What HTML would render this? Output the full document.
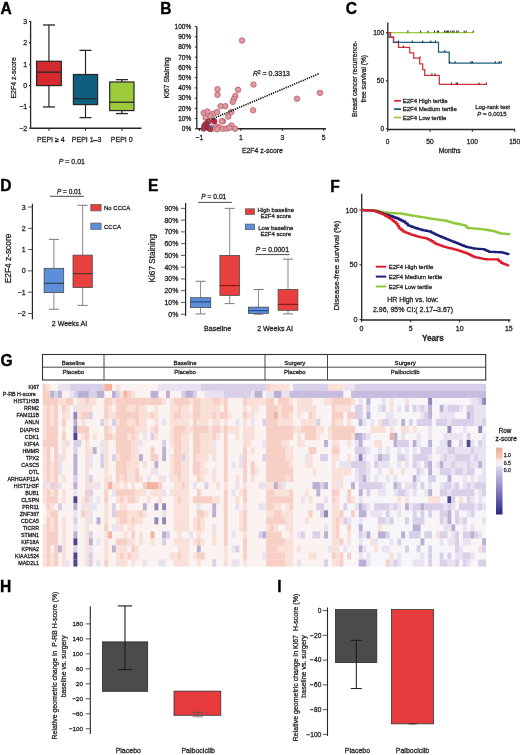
<!DOCTYPE html>
<html><head><meta charset="utf-8"><title>Figure</title>
<style>
html,body{margin:0;padding:0;background:#fff;}
body{width:520px;height:755px;overflow:hidden;}
svg{display:block;}
text{font-family:"Liberation Sans", Arial, Helvetica, sans-serif;}
</style></head>
<body>
<svg width="520" height="755" viewBox="0 0 520 755" shape-rendering="geometricPrecision">
<rect x="0" y="0" width="520" height="755" fill="#fff"/>
<text x="0.60" y="14.20" font-size="15.6" text-anchor="start" fill="#000" font-weight="bold" stroke="#000" stroke-width="0.35">A</text>
<line x1="30.60" y1="21.05" x2="30.60" y2="128.30" stroke="#262626" stroke-width="1.3" />
<line x1="29.00" y1="21.55" x2="30.60" y2="21.55" stroke="#262626" stroke-width="1.1" />
<text x="27.20" y="24.07" font-size="7.0" text-anchor="end" fill="#231f20" font-weight="normal"  stroke="#231f20" stroke-width="0.28">3</text>
<line x1="29.00" y1="42.90" x2="30.60" y2="42.90" stroke="#262626" stroke-width="1.1" />
<text x="27.20" y="45.42" font-size="7.0" text-anchor="end" fill="#231f20" font-weight="normal"  stroke="#231f20" stroke-width="0.28">2</text>
<line x1="29.00" y1="64.25" x2="30.60" y2="64.25" stroke="#262626" stroke-width="1.1" />
<text x="27.20" y="66.77" font-size="7.0" text-anchor="end" fill="#231f20" font-weight="normal"  stroke="#231f20" stroke-width="0.28">1</text>
<line x1="29.00" y1="85.60" x2="30.60" y2="85.60" stroke="#262626" stroke-width="1.1" />
<text x="27.20" y="88.12" font-size="7.0" text-anchor="end" fill="#231f20" font-weight="normal"  stroke="#231f20" stroke-width="0.28">0</text>
<line x1="29.00" y1="106.95" x2="30.60" y2="106.95" stroke="#262626" stroke-width="1.1" />
<text x="27.20" y="109.47" font-size="7.0" text-anchor="end" fill="#231f20" font-weight="normal"  stroke="#231f20" stroke-width="0.28">&#8722;1</text>
<line x1="29.00" y1="128.30" x2="30.60" y2="128.30" stroke="#262626" stroke-width="1.1" />
<text x="27.20" y="130.82" font-size="7.0" text-anchor="end" fill="#231f20" font-weight="normal"  stroke="#231f20" stroke-width="0.28">&#8722;2</text>
<line x1="30.60" y1="128.30" x2="141.50" y2="128.30" stroke="#262626" stroke-width="1.6" />
<line x1="48.90" y1="128.30" x2="48.90" y2="130.70" stroke="#262626" stroke-width="1.1" />
<line x1="85.50" y1="128.30" x2="85.50" y2="130.70" stroke="#262626" stroke-width="1.1" />
<line x1="122.00" y1="128.30" x2="122.00" y2="130.70" stroke="#262626" stroke-width="1.1" />
<line x1="48.95" y1="24.97" x2="48.95" y2="61.26" stroke="#262626" stroke-width="1.2" />
<line x1="48.95" y1="85.60" x2="48.95" y2="106.95" stroke="#262626" stroke-width="1.2" />
<line x1="42.95" y1="24.97" x2="54.95" y2="24.97" stroke="#262626" stroke-width="1.3" />
<line x1="42.95" y1="106.95" x2="54.95" y2="106.95" stroke="#262626" stroke-width="1.3" />
<rect x="36.60" y="61.26" width="24.70" height="24.34" fill="#d42a2e" stroke="#262626" stroke-width="1.2" />
<line x1="36.60" y1="72.15" x2="61.30" y2="72.15" stroke="#262626" stroke-width="1.3" />
<line x1="85.50" y1="50.37" x2="85.50" y2="74.50" stroke="#262626" stroke-width="1.2" />
<line x1="85.50" y1="104.60" x2="85.50" y2="117.62" stroke="#262626" stroke-width="1.2" />
<line x1="79.50" y1="50.37" x2="91.50" y2="50.37" stroke="#262626" stroke-width="1.3" />
<line x1="79.50" y1="117.62" x2="91.50" y2="117.62" stroke="#262626" stroke-width="1.3" />
<rect x="73.40" y="74.50" width="24.20" height="30.10" fill="#0e5e80" stroke="#262626" stroke-width="1.2" />
<line x1="73.40" y1="98.62" x2="97.60" y2="98.62" stroke="#262626" stroke-width="1.3" />
<line x1="121.85" y1="79.62" x2="121.85" y2="81.97" stroke="#262626" stroke-width="1.2" />
<line x1="121.85" y1="110.58" x2="121.85" y2="113.57" stroke="#262626" stroke-width="1.2" />
<line x1="115.85" y1="79.62" x2="127.85" y2="79.62" stroke="#262626" stroke-width="1.3" />
<line x1="115.85" y1="113.57" x2="127.85" y2="113.57" stroke="#262626" stroke-width="1.3" />
<rect x="109.70" y="81.97" width="24.30" height="28.61" fill="#9dcb3b" stroke="#262626" stroke-width="1.2" />
<line x1="109.70" y1="102.25" x2="134.00" y2="102.25" stroke="#262626" stroke-width="1.3" />
<text x="50.90" y="142.12" font-size="7.0" text-anchor="middle" fill="#231f20" font-weight="normal"  stroke="#231f20" stroke-width="0.28">PEPI &#8805; 4</text>
<text x="86.60" y="142.12" font-size="7.0" text-anchor="middle" fill="#231f20" font-weight="normal"  stroke="#231f20" stroke-width="0.28">PEPI 1&#8211;3</text>
<text x="121.70" y="142.12" font-size="7.0" text-anchor="middle" fill="#231f20" font-weight="normal"  stroke="#231f20" stroke-width="0.28">PEPI 0</text>
<text x="71.80" y="164.32" font-size="7.0" text-anchor="middle" fill="#231f20" font-weight="normal"  stroke="#231f20" stroke-width="0.28"><tspan font-style="italic">P</tspan> = 0.01</text>
<text transform="translate(15.52,77.80) rotate(-90)" x="0" y="0" font-size="7.0" text-anchor="middle" fill="#231f20" stroke="#231f20" stroke-width="0.28" >E2F4 z-score</text>
<text x="160.20" y="13.50" font-size="15.6" text-anchor="start" fill="#000" font-weight="bold" stroke="#000" stroke-width="0.35">B</text>
<line x1="196.80" y1="26.50" x2="196.80" y2="128.80" stroke="#262626" stroke-width="1.3" />
<line x1="194.80" y1="128.80" x2="196.80" y2="128.80" stroke="#262626" stroke-width="1.0" />
<text x="191.20" y="131.14" font-size="6.5" text-anchor="end" fill="#231f20" font-weight="normal"  stroke="#231f20" stroke-width="0.28">0%</text>
<line x1="194.80" y1="118.57" x2="196.80" y2="118.57" stroke="#262626" stroke-width="1.0" />
<text x="191.20" y="120.91" font-size="6.5" text-anchor="end" fill="#231f20" font-weight="normal"  stroke="#231f20" stroke-width="0.28">10%</text>
<line x1="194.80" y1="108.34" x2="196.80" y2="108.34" stroke="#262626" stroke-width="1.0" />
<text x="191.20" y="110.68" font-size="6.5" text-anchor="end" fill="#231f20" font-weight="normal"  stroke="#231f20" stroke-width="0.28">20%</text>
<line x1="194.80" y1="98.11" x2="196.80" y2="98.11" stroke="#262626" stroke-width="1.0" />
<text x="191.20" y="100.45" font-size="6.5" text-anchor="end" fill="#231f20" font-weight="normal"  stroke="#231f20" stroke-width="0.28">30%</text>
<line x1="194.80" y1="87.88" x2="196.80" y2="87.88" stroke="#262626" stroke-width="1.0" />
<text x="191.20" y="90.22" font-size="6.5" text-anchor="end" fill="#231f20" font-weight="normal"  stroke="#231f20" stroke-width="0.28">40%</text>
<line x1="194.80" y1="77.65" x2="196.80" y2="77.65" stroke="#262626" stroke-width="1.0" />
<text x="191.20" y="79.99" font-size="6.5" text-anchor="end" fill="#231f20" font-weight="normal"  stroke="#231f20" stroke-width="0.28">50%</text>
<line x1="194.80" y1="67.42" x2="196.80" y2="67.42" stroke="#262626" stroke-width="1.0" />
<text x="191.20" y="69.76" font-size="6.5" text-anchor="end" fill="#231f20" font-weight="normal"  stroke="#231f20" stroke-width="0.28">60%</text>
<line x1="194.80" y1="57.19" x2="196.80" y2="57.19" stroke="#262626" stroke-width="1.0" />
<text x="191.20" y="59.53" font-size="6.5" text-anchor="end" fill="#231f20" font-weight="normal"  stroke="#231f20" stroke-width="0.28">70%</text>
<line x1="194.80" y1="46.96" x2="196.80" y2="46.96" stroke="#262626" stroke-width="1.0" />
<text x="191.20" y="49.30" font-size="6.5" text-anchor="end" fill="#231f20" font-weight="normal"  stroke="#231f20" stroke-width="0.28">80%</text>
<line x1="194.80" y1="36.73" x2="196.80" y2="36.73" stroke="#262626" stroke-width="1.0" />
<text x="191.20" y="39.07" font-size="6.5" text-anchor="end" fill="#231f20" font-weight="normal"  stroke="#231f20" stroke-width="0.28">90%</text>
<line x1="194.80" y1="26.50" x2="196.80" y2="26.50" stroke="#262626" stroke-width="1.0" />
<text x="191.20" y="28.84" font-size="6.5" text-anchor="end" fill="#231f20" font-weight="normal"  stroke="#231f20" stroke-width="0.28">100%</text>
<line x1="196.80" y1="128.80" x2="326.00" y2="128.80" stroke="#262626" stroke-width="1.5" />
<line x1="199.50" y1="128.80" x2="199.50" y2="131.00" stroke="#262626" stroke-width="1.0" />
<text x="199.50" y="139.75" font-size="6.8" text-anchor="middle" fill="#231f20" font-weight="normal"  stroke="#231f20" stroke-width="0.28">&#8722;1</text>
<line x1="240.90" y1="128.80" x2="240.90" y2="131.00" stroke="#262626" stroke-width="1.0" />
<text x="240.90" y="139.75" font-size="6.8" text-anchor="middle" fill="#231f20" font-weight="normal"  stroke="#231f20" stroke-width="0.28">1</text>
<line x1="282.30" y1="128.80" x2="282.30" y2="131.00" stroke="#262626" stroke-width="1.0" />
<text x="282.30" y="139.75" font-size="6.8" text-anchor="middle" fill="#231f20" font-weight="normal"  stroke="#231f20" stroke-width="0.28">3</text>
<line x1="323.70" y1="128.80" x2="323.70" y2="131.00" stroke="#262626" stroke-width="1.0" />
<text x="323.70" y="139.75" font-size="6.8" text-anchor="middle" fill="#231f20" font-weight="normal"  stroke="#231f20" stroke-width="0.28">5</text>
<text x="262.40" y="153.28" font-size="6.9" text-anchor="middle" fill="#231f20" font-weight="normal"  stroke="#231f20" stroke-width="0.28">E2F4 z-score</text>
<text transform="translate(168.62,77.90) rotate(-90)" x="0" y="0" font-size="7.0" text-anchor="middle" fill="#231f20" stroke="#231f20" stroke-width="0.28" >Ki67 Staining</text>
<text x="253.00" y="76.12" font-size="7.0" text-anchor="start" fill="#231f20" font-weight="normal"  stroke="#231f20" stroke-width="0.28"><tspan font-style="italic">R</tspan><tspan font-size="4.5" dy="-2.5">2</tspan><tspan dy="2.5"> = 0.3313</tspan></text>
<circle cx="242.00" cy="40.50" r="2.75" fill="#dd9ba0" stroke="#b95b68" stroke-width="0.8"/>
<circle cx="253.50" cy="84.50" r="2.75" fill="#dd9ba0" stroke="#b95b68" stroke-width="0.8"/>
<circle cx="217.50" cy="89.20" r="2.75" fill="#dd9ba0" stroke="#b95b68" stroke-width="0.8"/>
<circle cx="217.50" cy="94.80" r="2.75" fill="#dd9ba0" stroke="#b95b68" stroke-width="0.8"/>
<circle cx="238.10" cy="89.80" r="2.75" fill="#dd9ba0" stroke="#b95b68" stroke-width="0.8"/>
<circle cx="235.40" cy="95.90" r="2.75" fill="#dd9ba0" stroke="#b95b68" stroke-width="0.8"/>
<circle cx="234.00" cy="99.00" r="2.75" fill="#dd9ba0" stroke="#b95b68" stroke-width="0.8"/>
<circle cx="232.70" cy="101.90" r="2.75" fill="#dd9ba0" stroke="#b95b68" stroke-width="0.8"/>
<circle cx="220.60" cy="106.20" r="2.75" fill="#dd9ba0" stroke="#b95b68" stroke-width="0.8"/>
<circle cx="225.30" cy="106.20" r="2.75" fill="#dd9ba0" stroke="#b95b68" stroke-width="0.8"/>
<circle cx="253.10" cy="110.30" r="2.75" fill="#dd9ba0" stroke="#b95b68" stroke-width="0.8"/>
<circle cx="231.30" cy="112.00" r="2.75" fill="#dd9ba0" stroke="#b95b68" stroke-width="0.8"/>
<circle cx="228.30" cy="116.50" r="2.75" fill="#dd9ba0" stroke="#b95b68" stroke-width="0.8"/>
<circle cx="222.90" cy="121.20" r="2.75" fill="#dd9ba0" stroke="#b95b68" stroke-width="0.8"/>
<circle cx="297.00" cy="98.70" r="2.75" fill="#dd9ba0" stroke="#b95b68" stroke-width="0.8"/>
<circle cx="320.00" cy="92.80" r="2.75" fill="#dd9ba0" stroke="#b95b68" stroke-width="0.8"/>
<circle cx="203.70" cy="112.90" r="2.75" fill="#dd9ba0" stroke="#b95b68" stroke-width="0.8"/>
<circle cx="207.50" cy="111.50" r="2.75" fill="#dd9ba0" stroke="#b95b68" stroke-width="0.8"/>
<circle cx="213.30" cy="113.80" r="2.75" fill="#dd9ba0" stroke="#b95b68" stroke-width="0.8"/>
<circle cx="217.10" cy="112.00" r="2.75" fill="#dd9ba0" stroke="#b95b68" stroke-width="0.8"/>
<circle cx="205.60" cy="117.70" r="2.75" fill="#dd9ba0" stroke="#b95b68" stroke-width="0.8"/>
<circle cx="210.50" cy="116.00" r="2.75" fill="#dd9ba0" stroke="#b95b68" stroke-width="0.8"/>
<circle cx="216.20" cy="126.30" r="2.75" fill="#dd9ba0" stroke="#b95b68" stroke-width="0.8"/>
<circle cx="219.00" cy="127.30" r="2.75" fill="#dd9ba0" stroke="#b95b68" stroke-width="0.8"/>
<circle cx="221.90" cy="121.20" r="2.75" fill="#dd9ba0" stroke="#b95b68" stroke-width="0.8"/>
<circle cx="217.10" cy="129.20" r="2.75" fill="#dd9ba0" stroke="#b95b68" stroke-width="0.8"/>
<circle cx="231.50" cy="125.40" r="2.75" fill="#dd9ba0" stroke="#b95b68" stroke-width="0.8"/>
<circle cx="235.00" cy="128.70" r="2.75" fill="#dd9ba0" stroke="#b95b68" stroke-width="0.8"/>
<circle cx="212.00" cy="128.80" r="2.75" fill="#dd9ba0" stroke="#b95b68" stroke-width="0.8"/>
<circle cx="223.00" cy="128.80" r="2.75" fill="#dd9ba0" stroke="#b95b68" stroke-width="0.8"/>
<circle cx="226.50" cy="128.50" r="2.75" fill="#dd9ba0" stroke="#b95b68" stroke-width="0.8"/>
<circle cx="229.50" cy="127.80" r="2.75" fill="#dd9ba0" stroke="#b95b68" stroke-width="0.8"/>
<circle cx="208.50" cy="121.50" r="2.75" fill="#a83446" stroke="#7e2234" stroke-width="0.7" fill-opacity="0.9"/>
<circle cx="206.00" cy="124.00" r="2.75" fill="#a83446" stroke="#7e2234" stroke-width="0.7" fill-opacity="0.9"/>
<circle cx="204.60" cy="125.60" r="2.75" fill="#a83446" stroke="#7e2234" stroke-width="0.7" fill-opacity="0.9"/>
<circle cx="207.50" cy="127.50" r="2.75" fill="#a83446" stroke="#7e2234" stroke-width="0.7" fill-opacity="0.9"/>
<circle cx="203.70" cy="128.50" r="2.75" fill="#a83446" stroke="#7e2234" stroke-width="0.7" fill-opacity="0.9"/>
<circle cx="210.00" cy="129.00" r="2.75" fill="#a83446" stroke="#7e2234" stroke-width="0.7" fill-opacity="0.9"/>
<circle cx="214.2" cy="121.2" r="2.7" fill="#b8283f" stroke="#8a1c30" stroke-width="0.6"/>
<circle cx="211.3" cy="126.3" r="2.0" fill="#6a5a9a" fill-opacity="0.65"/>
<line x1="211.5" y1="119.3" x2="318.9" y2="73.7" stroke="#111" stroke-width="1.65" stroke-dasharray="1.3,1.0"/>
<text x="345.80" y="14.20" font-size="15.6" text-anchor="start" fill="#000" font-weight="bold" stroke="#000" stroke-width="0.35">C</text>
<line x1="387.80" y1="22.40" x2="387.80" y2="129.60" stroke="#262626" stroke-width="1.3" />
<line x1="385.80" y1="32.70" x2="387.80" y2="32.70" stroke="#262626" stroke-width="1.1" />
<text x="384.20" y="35.08" font-size="6.6" text-anchor="end" fill="#231f20" font-weight="normal"  stroke="#231f20" stroke-width="0.28">100</text>
<line x1="385.80" y1="80.80" x2="387.80" y2="80.80" stroke="#262626" stroke-width="1.1" />
<text x="384.20" y="83.18" font-size="6.6" text-anchor="end" fill="#231f20" font-weight="normal"  stroke="#231f20" stroke-width="0.28">50</text>
<line x1="385.80" y1="128.90" x2="387.80" y2="128.90" stroke="#262626" stroke-width="1.1" />
<text x="384.20" y="131.28" font-size="6.6" text-anchor="end" fill="#231f20" font-weight="normal"  stroke="#231f20" stroke-width="0.28">0</text>
<line x1="387.80" y1="129.60" x2="515.00" y2="129.60" stroke="#262626" stroke-width="1.5" />
<line x1="387.70" y1="129.60" x2="387.70" y2="131.80" stroke="#262626" stroke-width="1.1" />
<text x="387.70" y="143.78" font-size="6.6" text-anchor="middle" fill="#231f20" font-weight="normal"  stroke="#231f20" stroke-width="0.28">0</text>
<line x1="430.03" y1="129.60" x2="430.03" y2="131.80" stroke="#262626" stroke-width="1.1" />
<text x="430.03" y="143.78" font-size="6.6" text-anchor="middle" fill="#231f20" font-weight="normal"  stroke="#231f20" stroke-width="0.28">50</text>
<line x1="472.37" y1="129.60" x2="472.37" y2="131.80" stroke="#262626" stroke-width="1.1" />
<text x="472.37" y="143.78" font-size="6.6" text-anchor="middle" fill="#231f20" font-weight="normal"  stroke="#231f20" stroke-width="0.28">100</text>
<line x1="514.70" y1="129.60" x2="514.70" y2="131.80" stroke="#262626" stroke-width="1.1" />
<text x="514.70" y="143.78" font-size="6.6" text-anchor="middle" fill="#231f20" font-weight="normal"  stroke="#231f20" stroke-width="0.28">150</text>
<text x="449.70" y="152.71" font-size="6.7" text-anchor="middle" fill="#231f20" font-weight="normal"  stroke="#231f20" stroke-width="0.28">Months</text>
<text transform="translate(357.08,78.80) rotate(-90)" x="0" y="0" font-size="6.6" text-anchor="middle" fill="#231f20" stroke="#231f20" stroke-width="0.28" >Breast cancer recurrence-</text>
<text transform="translate(365.68,78.80) rotate(-90)" x="0" y="0" font-size="6.6" text-anchor="middle" fill="#231f20" stroke="#231f20" stroke-width="0.28" >free survival (%)</text>
<polyline points="388,32.5 473.6,32.5" fill="none" stroke="#9dcb3b" stroke-width="1.25"/>
<polyline points="388,32.5 388.9,32.5 388.9,37.0 393.5,37.0 393.5,42.4 438.5,42.4 438.5,52.0 449.2,52.0 449.2,63.1 501.5,63.1" fill="none" stroke="#1a5f82" stroke-width="1.25"/>
<polyline points="388,32.5 390.6,32.5 390.6,37.0 393.5,37.0 393.5,42.4 398.5,42.4 398.5,47.4 409.7,47.4 409.7,52.8 413.7,52.8 413.7,58.2 419.7,58.2 419.7,63.8 422.7,63.8 422.7,69.5 424.7,69.5 424.7,75.3 439.3,75.3 439.3,84.4 486.8,84.4" fill="none" stroke="#d2323a" stroke-width="1.25"/>
<polyline points="393.5,42.4 398.5,42.4" fill="none" stroke="#1a5f82" stroke-width="1.25"/>
<line x1="407.90" y1="32.50" x2="407.90" y2="30.60" stroke="#1a1a1a" stroke-width="1.0" />
<line x1="420.60" y1="32.50" x2="420.60" y2="30.60" stroke="#1a1a1a" stroke-width="1.0" />
<line x1="428.10" y1="32.50" x2="428.10" y2="30.60" stroke="#1a1a1a" stroke-width="1.0" />
<line x1="434.50" y1="32.50" x2="434.50" y2="30.60" stroke="#1a1a1a" stroke-width="1.0" />
<line x1="437.30" y1="32.50" x2="437.30" y2="30.60" stroke="#1a1a1a" stroke-width="1.0" />
<line x1="438.50" y1="32.50" x2="438.50" y2="30.60" stroke="#1a1a1a" stroke-width="1.0" />
<line x1="444.60" y1="32.50" x2="444.60" y2="30.60" stroke="#1a1a1a" stroke-width="1.0" />
<line x1="446.20" y1="32.50" x2="446.20" y2="30.60" stroke="#1a1a1a" stroke-width="1.0" />
<line x1="447.40" y1="32.50" x2="447.40" y2="30.60" stroke="#1a1a1a" stroke-width="1.0" />
<line x1="448.70" y1="32.50" x2="448.70" y2="30.60" stroke="#1a1a1a" stroke-width="1.0" />
<line x1="450.80" y1="32.50" x2="450.80" y2="30.60" stroke="#1a1a1a" stroke-width="1.0" />
<line x1="452.80" y1="32.50" x2="452.80" y2="30.60" stroke="#1a1a1a" stroke-width="1.0" />
<line x1="454.10" y1="32.50" x2="454.10" y2="30.60" stroke="#1a1a1a" stroke-width="1.0" />
<line x1="456.80" y1="32.50" x2="456.80" y2="30.60" stroke="#1a1a1a" stroke-width="1.0" />
<line x1="458.20" y1="32.50" x2="458.20" y2="30.60" stroke="#1a1a1a" stroke-width="1.0" />
<line x1="464.20" y1="32.50" x2="464.20" y2="30.60" stroke="#1a1a1a" stroke-width="1.0" />
<line x1="466.20" y1="32.50" x2="466.20" y2="30.60" stroke="#1a1a1a" stroke-width="1.0" />
<line x1="473.20" y1="32.50" x2="473.20" y2="30.60" stroke="#1a1a1a" stroke-width="1.0" />
<line x1="398.50" y1="42.40" x2="398.50" y2="40.50" stroke="#1a1a1a" stroke-width="1.0" />
<line x1="412.30" y1="42.40" x2="412.30" y2="40.50" stroke="#1a1a1a" stroke-width="1.0" />
<line x1="422.70" y1="42.40" x2="422.70" y2="40.50" stroke="#1a1a1a" stroke-width="1.0" />
<line x1="430.80" y1="42.40" x2="430.80" y2="40.50" stroke="#1a1a1a" stroke-width="1.0" />
<line x1="435.40" y1="42.40" x2="435.40" y2="40.50" stroke="#1a1a1a" stroke-width="1.0" />
<line x1="444.80" y1="52.00" x2="444.80" y2="50.10" stroke="#1a1a1a" stroke-width="1.0" />
<line x1="449.70" y1="63.10" x2="449.70" y2="61.20" stroke="#1a1a1a" stroke-width="1.0" />
<line x1="455.10" y1="63.10" x2="455.10" y2="61.20" stroke="#1a1a1a" stroke-width="1.0" />
<line x1="471.00" y1="63.10" x2="471.00" y2="61.20" stroke="#1a1a1a" stroke-width="1.0" />
<line x1="472.30" y1="63.10" x2="472.30" y2="61.20" stroke="#1a1a1a" stroke-width="1.0" />
<line x1="495.20" y1="63.10" x2="495.20" y2="61.20" stroke="#1a1a1a" stroke-width="1.0" />
<line x1="499.20" y1="63.10" x2="499.20" y2="61.20" stroke="#1a1a1a" stroke-width="1.0" />
<line x1="501.20" y1="63.10" x2="501.20" y2="61.20" stroke="#1a1a1a" stroke-width="1.0" />
<line x1="403.30" y1="47.40" x2="403.30" y2="45.50" stroke="#1a1a1a" stroke-width="1.0" />
<line x1="420.00" y1="58.20" x2="420.00" y2="56.30" stroke="#1a1a1a" stroke-width="1.0" />
<line x1="431.90" y1="75.30" x2="431.90" y2="73.40" stroke="#1a1a1a" stroke-width="1.0" />
<line x1="435.00" y1="75.30" x2="435.00" y2="73.40" stroke="#1a1a1a" stroke-width="1.0" />
<line x1="451.40" y1="84.40" x2="451.40" y2="82.50" stroke="#1a1a1a" stroke-width="1.0" />
<line x1="456.20" y1="84.40" x2="456.20" y2="82.50" stroke="#1a1a1a" stroke-width="1.0" />
<line x1="457.50" y1="84.40" x2="457.50" y2="82.50" stroke="#1a1a1a" stroke-width="1.0" />
<line x1="479.00" y1="84.40" x2="479.00" y2="82.50" stroke="#1a1a1a" stroke-width="1.0" />
<line x1="486.40" y1="84.40" x2="486.40" y2="82.50" stroke="#1a1a1a" stroke-width="1.0" />
<line x1="394.00" y1="100.80" x2="401.00" y2="100.80" stroke="#d2323a" stroke-width="1.8" />
<text x="402.70" y="102.98" font-size="6.05" text-anchor="start" fill="#231f20" font-weight="normal"  stroke="#231f20" stroke-width="0.28">E2F4 High tertile</text>
<line x1="394.00" y1="109.15" x2="401.00" y2="109.15" stroke="#1a5f82" stroke-width="1.8" />
<text x="402.70" y="111.33" font-size="6.05" text-anchor="start" fill="#231f20" font-weight="normal"  stroke="#231f20" stroke-width="0.28">E2F4 Medium tertile</text>
<line x1="394.00" y1="117.50" x2="401.00" y2="117.50" stroke="#9dcb3b" stroke-width="1.8" />
<text x="402.70" y="119.68" font-size="6.05" text-anchor="start" fill="#231f20" font-weight="normal"  stroke="#231f20" stroke-width="0.28">E2F4 Low tertile</text>
<text x="492.60" y="109.34" font-size="5.95" text-anchor="middle" fill="#231f20" font-weight="normal"  stroke="#231f20" stroke-width="0.28">Log-rank test</text>
<text x="491.90" y="116.06" font-size="6.0" text-anchor="middle" fill="#231f20" font-weight="normal"  stroke="#231f20" stroke-width="0.28"><tspan font-style="italic">P</tspan> = 0.0015</text>
<text x="0.20" y="191.40" font-size="15.6" text-anchor="start" fill="#000" font-weight="bold" stroke="#000" stroke-width="0.35">D</text>
<line x1="32.40" y1="203.80" x2="32.40" y2="319.20" stroke="#262626" stroke-width="1.2" />
<line x1="28.00" y1="207.00" x2="32.40" y2="207.00" stroke="#444" stroke-width="0.9" />
<text x="25.60" y="209.52" font-size="7.0" text-anchor="end" fill="#231f20" font-weight="normal"  stroke="#231f20" stroke-width="0.28">3</text>
<line x1="28.00" y1="228.30" x2="32.40" y2="228.30" stroke="#444" stroke-width="0.9" />
<text x="25.60" y="230.82" font-size="7.0" text-anchor="end" fill="#231f20" font-weight="normal"  stroke="#231f20" stroke-width="0.28">2</text>
<line x1="28.00" y1="249.60" x2="32.40" y2="249.60" stroke="#444" stroke-width="0.9" />
<text x="25.60" y="252.12" font-size="7.0" text-anchor="end" fill="#231f20" font-weight="normal"  stroke="#231f20" stroke-width="0.28">1</text>
<line x1="28.00" y1="270.90" x2="32.40" y2="270.90" stroke="#444" stroke-width="0.9" />
<text x="25.60" y="273.42" font-size="7.0" text-anchor="end" fill="#231f20" font-weight="normal"  stroke="#231f20" stroke-width="0.28">0</text>
<line x1="28.00" y1="292.20" x2="32.40" y2="292.20" stroke="#444" stroke-width="0.9" />
<text x="25.60" y="294.72" font-size="7.0" text-anchor="end" fill="#231f20" font-weight="normal"  stroke="#231f20" stroke-width="0.28">&#8722;1</text>
<line x1="28.00" y1="313.50" x2="32.40" y2="313.50" stroke="#444" stroke-width="0.9" />
<text x="25.60" y="316.02" font-size="7.0" text-anchor="end" fill="#231f20" font-weight="normal"  stroke="#231f20" stroke-width="0.28">&#8722;2</text>
<line x1="53.90" y1="239.38" x2="53.90" y2="268.34" stroke="#6b6b6b" stroke-width="0.8" />
<line x1="53.90" y1="292.63" x2="53.90" y2="309.24" stroke="#6b6b6b" stroke-width="0.8" />
<line x1="48.90" y1="239.38" x2="58.90" y2="239.38" stroke="#6b6b6b" stroke-width="0.9" />
<line x1="48.90" y1="309.24" x2="58.90" y2="309.24" stroke="#6b6b6b" stroke-width="0.9" />
<rect x="44.10" y="268.34" width="19.60" height="24.28" fill="#5b8fd9" stroke="#4a4a4a" stroke-width="0.8" />
<line x1="44.10" y1="283.25" x2="63.70" y2="283.25" stroke="#333" stroke-width="1.0" />
<line x1="82.65" y1="205.30" x2="82.65" y2="255.14" stroke="#6b6b6b" stroke-width="0.8" />
<line x1="82.65" y1="287.51" x2="82.65" y2="305.41" stroke="#6b6b6b" stroke-width="0.8" />
<line x1="77.65" y1="205.30" x2="87.65" y2="205.30" stroke="#6b6b6b" stroke-width="0.9" />
<line x1="77.65" y1="305.41" x2="87.65" y2="305.41" stroke="#6b6b6b" stroke-width="0.9" />
<rect x="73.00" y="255.14" width="19.30" height="32.38" fill="#e8403e" stroke="#4a4a4a" stroke-width="0.8" />
<line x1="73.00" y1="273.67" x2="92.30" y2="273.67" stroke="#333" stroke-width="1.0" />
<text x="69.10" y="193.84" font-size="6.5" text-anchor="middle" fill="#231f20" font-weight="normal"  stroke="#231f20" stroke-width="0.28"><tspan font-style="italic">P</tspan> = 0.01</text>
<line x1="50.00" y1="196.30" x2="83.80" y2="196.30" stroke="#333" stroke-width="0.9" />
<rect x="90.80" y="204.40" width="10.30" height="6.50" fill="#e8403e" stroke="#555" stroke-width="0.7" />
<text x="104.00" y="210.46" font-size="6.0" text-anchor="start" fill="#231f20" font-weight="normal"  stroke="#231f20" stroke-width="0.28">No CCCA</text>
<rect x="90.80" y="223.10" width="10.30" height="6.20" fill="#5b8fd9" stroke="#555" stroke-width="0.7" />
<text x="104.00" y="228.66" font-size="6.0" text-anchor="start" fill="#231f20" font-weight="normal"  stroke="#231f20" stroke-width="0.28">CCCA</text>
<text x="69.50" y="326.02" font-size="7.0" text-anchor="middle" fill="#231f20" font-weight="normal"  stroke="#231f20" stroke-width="0.28">2 Weeks AI</text>
<text transform="translate(11.01,258.50) rotate(-90)" x="0" y="0" font-size="8.36" text-anchor="middle" fill="#231f20" stroke="#231f20" stroke-width="0.28" >E2F4 z-score</text>
<text x="148.00" y="191.30" font-size="15.6" text-anchor="start" fill="#000" font-weight="bold" stroke="#000" stroke-width="0.35">E</text>
<line x1="185.60" y1="202.90" x2="185.60" y2="316.00" stroke="#262626" stroke-width="1.2" />
<line x1="181.00" y1="314.20" x2="185.60" y2="314.20" stroke="#444" stroke-width="0.9" />
<text x="178.30" y="316.68" font-size="6.9" text-anchor="end" fill="#231f20" font-weight="normal"  stroke="#231f20" stroke-width="0.28">0%</text>
<line x1="181.00" y1="302.44" x2="185.60" y2="302.44" stroke="#444" stroke-width="0.9" />
<text x="178.30" y="304.92" font-size="6.9" text-anchor="end" fill="#231f20" font-weight="normal"  stroke="#231f20" stroke-width="0.28">10%</text>
<line x1="181.00" y1="290.68" x2="185.60" y2="290.68" stroke="#444" stroke-width="0.9" />
<text x="178.30" y="293.16" font-size="6.9" text-anchor="end" fill="#231f20" font-weight="normal"  stroke="#231f20" stroke-width="0.28">20%</text>
<line x1="181.00" y1="278.92" x2="185.60" y2="278.92" stroke="#444" stroke-width="0.9" />
<text x="178.30" y="281.40" font-size="6.9" text-anchor="end" fill="#231f20" font-weight="normal"  stroke="#231f20" stroke-width="0.28">30%</text>
<line x1="181.00" y1="267.16" x2="185.60" y2="267.16" stroke="#444" stroke-width="0.9" />
<text x="178.30" y="269.64" font-size="6.9" text-anchor="end" fill="#231f20" font-weight="normal"  stroke="#231f20" stroke-width="0.28">40%</text>
<line x1="181.00" y1="255.40" x2="185.60" y2="255.40" stroke="#444" stroke-width="0.9" />
<text x="178.30" y="257.88" font-size="6.9" text-anchor="end" fill="#231f20" font-weight="normal"  stroke="#231f20" stroke-width="0.28">50%</text>
<line x1="181.00" y1="243.64" x2="185.60" y2="243.64" stroke="#444" stroke-width="0.9" />
<text x="178.30" y="246.12" font-size="6.9" text-anchor="end" fill="#231f20" font-weight="normal"  stroke="#231f20" stroke-width="0.28">60%</text>
<line x1="181.00" y1="231.88" x2="185.60" y2="231.88" stroke="#444" stroke-width="0.9" />
<text x="178.30" y="234.36" font-size="6.9" text-anchor="end" fill="#231f20" font-weight="normal"  stroke="#231f20" stroke-width="0.28">70%</text>
<line x1="181.00" y1="220.12" x2="185.60" y2="220.12" stroke="#444" stroke-width="0.9" />
<text x="178.30" y="222.60" font-size="6.9" text-anchor="end" fill="#231f20" font-weight="normal"  stroke="#231f20" stroke-width="0.28">80%</text>
<line x1="181.00" y1="208.36" x2="185.60" y2="208.36" stroke="#444" stroke-width="0.9" />
<text x="178.30" y="210.84" font-size="6.9" text-anchor="end" fill="#231f20" font-weight="normal"  stroke="#231f20" stroke-width="0.28">90%</text>
<line x1="200.55" y1="281.27" x2="200.55" y2="297.74" stroke="#6b6b6b" stroke-width="0.8" />
<line x1="200.55" y1="307.61" x2="200.55" y2="313.96" stroke="#6b6b6b" stroke-width="0.8" />
<line x1="195.55" y1="281.27" x2="205.55" y2="281.27" stroke="#6b6b6b" stroke-width="0.9" />
<line x1="195.55" y1="313.96" x2="205.55" y2="313.96" stroke="#6b6b6b" stroke-width="0.9" />
<rect x="190.40" y="297.74" width="20.30" height="9.88" fill="#5b8fd9" stroke="#4a4a4a" stroke-width="0.8" />
<line x1="190.40" y1="301.85" x2="210.70" y2="301.85" stroke="#1d3f7a" stroke-width="1.0" />
<line x1="229.70" y1="208.36" x2="229.70" y2="255.40" stroke="#6b6b6b" stroke-width="0.8" />
<line x1="229.70" y1="295.38" x2="229.70" y2="303.62" stroke="#6b6b6b" stroke-width="0.8" />
<line x1="224.70" y1="208.36" x2="234.70" y2="208.36" stroke="#6b6b6b" stroke-width="0.9" />
<line x1="224.70" y1="303.62" x2="234.70" y2="303.62" stroke="#6b6b6b" stroke-width="0.9" />
<rect x="219.90" y="255.40" width="19.60" height="39.98" fill="#e8403e" stroke="#4a4a4a" stroke-width="0.8" />
<line x1="219.90" y1="285.62" x2="239.50" y2="285.62" stroke="#7a1010" stroke-width="1.0" />
<line x1="258.45" y1="289.50" x2="258.45" y2="307.14" stroke="#6b6b6b" stroke-width="0.8" />
<line x1="258.45" y1="313.38" x2="258.45" y2="314.20" stroke="#6b6b6b" stroke-width="0.8" />
<line x1="253.45" y1="289.50" x2="263.45" y2="289.50" stroke="#6b6b6b" stroke-width="0.9" />
<line x1="253.45" y1="314.20" x2="263.45" y2="314.20" stroke="#6b6b6b" stroke-width="0.9" />
<rect x="248.50" y="307.14" width="19.90" height="6.23" fill="#5b8fd9" stroke="#4a4a4a" stroke-width="0.8" />
<line x1="248.50" y1="310.67" x2="268.40" y2="310.67" stroke="#1d3f7a" stroke-width="1.0" />
<line x1="288.00" y1="259.16" x2="288.00" y2="289.50" stroke="#6b6b6b" stroke-width="0.8" />
<line x1="288.00" y1="310.32" x2="288.00" y2="313.85" stroke="#6b6b6b" stroke-width="0.8" />
<line x1="283.00" y1="259.16" x2="293.00" y2="259.16" stroke="#6b6b6b" stroke-width="0.9" />
<line x1="283.00" y1="313.85" x2="293.00" y2="313.85" stroke="#6b6b6b" stroke-width="0.9" />
<rect x="278.10" y="289.50" width="19.80" height="20.82" fill="#e8403e" stroke="#4a4a4a" stroke-width="0.8" />
<line x1="278.10" y1="304.32" x2="297.90" y2="304.32" stroke="#7a1010" stroke-width="1.0" />
<text x="213.80" y="198.90" font-size="6.66" text-anchor="middle" fill="#231f20" font-weight="normal"  stroke="#231f20" stroke-width="0.28"><tspan font-style="italic">P</tspan> = 0.01</text>
<line x1="198.20" y1="202.40" x2="231.80" y2="202.40" stroke="#333" stroke-width="0.9" />
<text x="272.40" y="251.95" font-size="6.8" text-anchor="middle" fill="#231f20" font-weight="normal"  stroke="#231f20" stroke-width="0.28"><tspan font-style="italic">P</tspan> = 0.0001</text>
<line x1="255.40" y1="254.60" x2="289.50" y2="254.60" stroke="#333" stroke-width="0.9" />
<rect x="245.30" y="208.80" width="9.30" height="5.60" fill="#e8403e" stroke="#555" stroke-width="0.7" />
<text x="275.80" y="211.66" font-size="6.0" text-anchor="middle" fill="#231f20" font-weight="normal"  stroke="#231f20" stroke-width="0.28">High baseline</text>
<text x="275.80" y="218.36" font-size="6.0" text-anchor="middle" fill="#231f20" font-weight="normal"  stroke="#231f20" stroke-width="0.28">E2F4 score</text>
<rect x="245.30" y="224.10" width="9.30" height="5.60" fill="#5b8fd9" stroke="#555" stroke-width="0.7" />
<text x="275.80" y="229.86" font-size="6.0" text-anchor="middle" fill="#231f20" font-weight="normal"  stroke="#231f20" stroke-width="0.28">Low baseline</text>
<text x="275.80" y="236.36" font-size="6.0" text-anchor="middle" fill="#231f20" font-weight="normal"  stroke="#231f20" stroke-width="0.28">E2F4 score</text>
<text x="217.60" y="331.14" font-size="7.06" text-anchor="middle" fill="#231f20" font-weight="normal"  stroke="#231f20" stroke-width="0.28">Baseline</text>
<text x="275.00" y="331.16" font-size="7.1" text-anchor="middle" fill="#231f20" font-weight="normal"  stroke="#231f20" stroke-width="0.28">2 Weeks AI</text>
<text transform="translate(155.05,258.30) rotate(-90)" x="0" y="0" font-size="8.2" text-anchor="middle" fill="#231f20" stroke="#231f20" stroke-width="0.28" >Ki67 Staining</text>
<text x="330.20" y="191.60" font-size="15.6" text-anchor="start" fill="#000" font-weight="bold" stroke="#000" stroke-width="0.35">F</text>
<line x1="361.70" y1="193.70" x2="361.70" y2="320.20" stroke="#262626" stroke-width="1.3" />
<line x1="359.50" y1="210.00" x2="361.70" y2="210.00" stroke="#262626" stroke-width="1.1" />
<text x="357.60" y="212.59" font-size="7.2" text-anchor="end" fill="#231f20" font-weight="normal"  stroke="#231f20" stroke-width="0.28">100</text>
<line x1="359.50" y1="264.80" x2="361.70" y2="264.80" stroke="#262626" stroke-width="1.1" />
<text x="357.60" y="267.39" font-size="7.2" text-anchor="end" fill="#231f20" font-weight="normal"  stroke="#231f20" stroke-width="0.28">50</text>
<line x1="359.50" y1="319.60" x2="361.70" y2="319.60" stroke="#262626" stroke-width="1.1" />
<text x="357.60" y="322.19" font-size="7.2" text-anchor="end" fill="#231f20" font-weight="normal"  stroke="#231f20" stroke-width="0.28">0</text>
<line x1="361.70" y1="320.00" x2="510.50" y2="320.00" stroke="#262626" stroke-width="1.5" />
<line x1="361.50" y1="320.00" x2="361.50" y2="322.20" stroke="#262626" stroke-width="1.1" />
<text x="361.50" y="330.52" font-size="7.0" text-anchor="middle" fill="#231f20" font-weight="normal"  stroke="#231f20" stroke-width="0.28">0</text>
<line x1="410.60" y1="320.00" x2="410.60" y2="322.20" stroke="#262626" stroke-width="1.1" />
<text x="410.60" y="330.52" font-size="7.0" text-anchor="middle" fill="#231f20" font-weight="normal"  stroke="#231f20" stroke-width="0.28">5</text>
<line x1="459.70" y1="320.00" x2="459.70" y2="322.20" stroke="#262626" stroke-width="1.1" />
<text x="459.70" y="330.52" font-size="7.0" text-anchor="middle" fill="#231f20" font-weight="normal"  stroke="#231f20" stroke-width="0.28">10</text>
<line x1="508.80" y1="320.00" x2="508.80" y2="322.20" stroke="#262626" stroke-width="1.1" />
<text x="508.80" y="330.52" font-size="7.0" text-anchor="middle" fill="#231f20" font-weight="normal"  stroke="#231f20" stroke-width="0.28">15</text>
<text x="432.90" y="340.95" font-size="8.2" text-anchor="middle" fill="#231f20" font-weight="bold"  stroke="#231f20" stroke-width="0.28">Years</text>
<text transform="translate(339.00,265.50) rotate(-90)" x="0" y="0" font-size="8.05" text-anchor="middle" fill="#231f20" stroke="#231f20" stroke-width="0.28" >Disease-free survival (%)</text>
<polyline points="361.50,210.00 363.24,210.00 363.24,210.06 364.98,210.06 364.98,210.12 366.71,210.12 366.71,210.19 368.45,210.19 368.45,210.25 370.19,210.25 370.19,210.31 371.92,210.31 371.92,210.38 373.66,210.38 373.66,210.44 375.40,210.44 375.40,210.50 377.30,210.50 377.30,210.95 379.20,210.95 379.20,211.40 381.10,211.40 381.10,211.85 383.00,211.85 383.00,212.30 384.95,212.30 384.95,212.50 386.90,212.50 386.90,212.70 388.85,212.70 388.85,212.90 390.80,212.90 390.80,213.10 392.64,213.10 392.64,213.18 394.48,213.18 394.48,213.26 396.32,213.26 396.32,213.34 398.16,213.34 398.16,213.42 400.00,213.42 400.00,213.50 402.07,213.50 402.07,213.87 404.13,213.87 404.13,214.23 406.20,214.23 406.20,214.60 408.04,214.60 408.04,214.92 409.88,214.92 409.88,215.24 411.72,215.24 411.72,215.56 413.56,215.56 413.56,215.88 415.40,215.88 415.40,216.20 417.24,216.20 417.24,216.50 419.08,216.50 419.08,216.80 420.92,216.80 420.92,217.10 422.76,217.10 422.76,217.40 424.60,217.40 424.60,217.70 426.44,217.70 426.44,218.00 428.28,218.00 428.28,218.30 430.12,218.30 430.12,218.60 431.96,218.60 431.96,218.90 433.80,218.90 433.80,219.20 435.53,219.20 435.53,219.42 437.27,219.42 437.27,219.63 439.00,219.63 439.00,219.85 440.73,219.85 440.73,220.07 442.47,220.07 442.47,220.28 444.20,220.28 444.20,220.50 446.06,220.50 446.06,221.02 447.92,221.02 447.92,221.54 449.78,221.54 449.78,222.06 451.64,222.06 451.64,222.58 453.50,222.58 453.50,223.10 455.28,223.10 455.28,223.48 457.07,223.48 457.07,223.87 458.85,223.87 458.85,224.25 460.63,224.25 460.63,224.63 462.42,224.63 462.42,225.02 464.20,225.02 464.20,225.40 465.75,225.40 465.75,226.70 467.30,226.70 467.30,228.00 469.04,228.00 469.04,228.15 470.77,228.15 470.77,228.30 472.51,228.30 472.51,228.45 474.25,228.45 474.25,228.60 475.99,228.60 475.99,228.75 477.73,228.75 477.73,228.90 479.46,228.90 479.46,229.05 481.20,229.05 481.20,229.20 482.98,229.20 482.98,229.47 484.77,229.47 484.77,229.73 486.55,229.73 486.55,230.00 488.33,230.00 488.33,230.27 490.12,230.27 490.12,230.53 491.90,230.53 491.90,230.80 493.82,230.80 493.82,231.45 495.75,231.45 495.75,232.10 497.68,232.10 497.68,232.75 499.60,232.75 499.60,233.40 501.27,233.40 501.27,233.55 502.93,233.55 502.93,233.70 504.60,233.70 504.60,233.85 506.27,233.85 506.27,234.00 507.93,234.00 507.93,234.15 509.60,234.15 509.60,234.30" fill="none" stroke="#8fc93a" stroke-width="2.3" stroke-linejoin="round"/>
<polyline points="361.50,210.00 363.26,210.00 363.26,210.11 365.01,210.11 365.01,210.23 366.77,210.23 366.77,210.34 368.53,210.34 368.53,210.46 370.29,210.46 370.29,210.57 372.04,210.57 372.04,210.69 373.80,210.69 373.80,210.80 375.64,210.80 375.64,211.40 377.48,211.40 377.48,212.00 379.32,212.00 379.32,212.60 381.16,212.60 381.16,213.20 383.00,213.20 383.00,213.80 384.95,213.80 384.95,214.40 386.90,214.40 386.90,215.00 388.85,215.00 388.85,215.60 390.80,215.60 390.80,216.20 392.83,216.20 392.83,216.97 394.87,216.97 394.87,217.73 396.90,217.73 396.90,218.50 398.93,218.50 398.93,219.50 400.97,219.50 400.97,220.50 403.00,220.50 403.00,221.50 405.35,221.50 405.35,223.45 407.70,223.45 407.70,225.40 409.73,225.40 409.73,226.17 411.77,226.17 411.77,226.93 413.80,226.93 413.80,227.70 415.73,227.70 415.73,228.27 417.65,228.27 417.65,228.85 419.57,228.85 419.57,229.43 421.50,229.43 421.50,230.00 423.43,230.00 423.43,230.38 425.35,230.38 425.35,230.75 427.27,230.75 427.27,231.12 429.20,231.12 429.20,231.50 431.27,231.50 431.27,232.53 433.33,232.53 433.33,233.57 435.40,233.57 435.40,234.60 437.22,234.60 437.22,235.38 439.05,235.38 439.05,236.15 440.88,236.15 440.88,236.92 442.70,236.92 442.70,237.70 444.50,237.70 444.50,238.42 446.30,238.42 446.30,239.13 448.10,239.13 448.10,239.85 449.90,239.85 449.90,240.57 451.70,240.57 451.70,241.28 453.50,241.28 453.50,242.00 455.26,242.00 455.26,242.70 457.01,242.70 457.01,243.40 458.77,243.40 458.77,244.10 460.53,244.10 460.53,244.80 462.29,244.80 462.29,245.50 464.04,245.50 464.04,246.20 465.80,246.20 465.80,246.90 467.73,246.90 467.73,247.30 469.65,247.30 469.65,247.70 471.57,247.70 471.57,248.10 473.50,248.10 473.50,248.50 475.34,248.50 475.34,248.64 477.18,248.64 477.18,248.78 479.02,248.78 479.02,248.92 480.86,248.92 480.86,249.06 482.70,249.06 482.70,249.20 484.73,249.20 484.73,250.07 486.77,250.07 486.77,250.93 488.80,250.93 488.80,251.80 490.57,251.80 490.57,251.87 492.34,251.87 492.34,251.94 494.11,251.94 494.11,252.01 495.89,252.01 495.89,252.09 497.66,252.09 497.66,252.16 499.43,252.16 499.43,252.23 501.20,252.23 501.20,252.30 503.10,252.30 503.10,252.88 505.00,252.88 505.00,253.45 506.90,253.45 506.90,254.03 508.80,254.03 508.80,254.60" fill="none" stroke="#1c1f7a" stroke-width="2.3" stroke-linejoin="round"/>
<polyline points="361.50,210.00 363.26,210.00 363.26,210.11 365.01,210.11 365.01,210.23 366.77,210.23 366.77,210.34 368.53,210.34 368.53,210.46 370.29,210.46 370.29,210.57 372.04,210.57 372.04,210.69 373.80,210.69 373.80,210.80 375.64,210.80 375.64,211.56 377.48,211.56 377.48,212.32 379.32,212.32 379.32,213.08 381.16,213.08 381.16,213.84 383.00,213.84 383.00,214.60 384.95,214.60 384.95,215.75 386.90,215.75 386.90,216.90 388.85,216.90 388.85,218.05 390.80,218.05 390.80,219.20 392.60,219.20 392.60,220.73 394.40,220.73 394.40,222.27 396.20,222.27 396.20,223.80 397.70,223.80 397.70,226.15 399.20,226.15 399.20,228.50 401.10,228.50 401.10,230.00 403.00,230.00 403.00,231.50 404.95,231.50 404.95,232.28 406.90,232.28 406.90,233.05 408.85,233.05 408.85,233.82 410.80,233.82 410.80,234.60 412.73,234.60 412.73,235.18 414.65,235.18 414.65,235.75 416.57,235.75 416.57,236.32 418.50,236.32 418.50,236.90 420.53,236.90 420.53,237.33 422.57,237.33 422.57,237.77 424.60,237.77 424.60,238.20 426.90,238.20 426.90,239.10 429.20,239.10 429.20,240.00 431.27,240.00 431.27,241.27 433.33,241.27 433.33,242.53 435.40,242.53 435.40,243.80 437.16,243.80 437.16,244.42 438.92,244.42 438.92,245.04 440.68,245.04 440.68,245.66 442.44,245.66 442.44,246.28 444.20,246.28 444.20,246.90 445.96,246.90 445.96,247.34 447.71,247.34 447.71,247.79 449.47,247.79 449.47,248.23 451.23,248.23 451.23,248.67 452.99,248.67 452.99,249.11 454.74,249.11 454.74,249.56 456.50,249.56 456.50,250.00 458.36,250.00 458.36,250.62 460.22,250.62 460.22,251.24 462.08,251.24 462.08,251.86 463.94,251.86 463.94,252.48 465.80,252.48 465.80,253.10 467.73,253.10 467.73,254.05 469.65,254.05 469.65,255.00 471.57,255.00 471.57,255.95 473.50,255.95 473.50,256.90 475.28,256.90 475.28,257.28 477.07,257.28 477.07,257.67 478.85,257.67 478.85,258.05 480.63,258.05 480.63,258.43 482.42,258.43 482.42,258.82 484.20,258.82 484.20,259.20 485.96,259.20 485.96,259.24 487.71,259.24 487.71,259.29 489.47,259.29 489.47,259.33 491.23,259.33 491.23,259.37 492.99,259.37 492.99,259.41 494.74,259.41 494.74,259.46 496.50,259.46 496.50,259.50 498.85,259.50 498.85,261.30 501.20,261.30 501.20,263.10 503.23,263.10 503.23,263.87 505.27,263.87 505.27,264.63 507.30,264.63 507.30,265.40 508.25,265.40 508.25,265.40 509.20,265.40 509.20,265.40" fill="none" stroke="#dd1f2d" stroke-width="2.3" stroke-linejoin="round"/>
<line x1="375.80" y1="266.70" x2="386.30" y2="266.70" stroke="#dd1f2d" stroke-width="2.0" />
<text x="388.70" y="268.86" font-size="6.0" text-anchor="start" fill="#231f20" font-weight="normal"  stroke="#231f20" stroke-width="0.28">E2F4 High tertile</text>
<line x1="375.80" y1="276.60" x2="386.30" y2="276.60" stroke="#1c1f7a" stroke-width="2.0" />
<text x="388.70" y="278.76" font-size="6.0" text-anchor="start" fill="#231f20" font-weight="normal"  stroke="#231f20" stroke-width="0.28">E2F4 Medium tertile</text>
<line x1="375.80" y1="286.50" x2="386.30" y2="286.50" stroke="#8fc93a" stroke-width="2.0" />
<text x="388.70" y="288.66" font-size="6.0" text-anchor="start" fill="#231f20" font-weight="normal"  stroke="#231f20" stroke-width="0.28">E2F4 Low tertile</text>
<text x="412.80" y="302.38" font-size="6.9" text-anchor="middle" fill="#231f20" font-weight="normal"  stroke="#231f20" stroke-width="0.28">HR High vs. low:</text>
<text x="413.00" y="312.02" font-size="7.0" text-anchor="middle" fill="#231f20" font-weight="normal"  stroke="#231f20" stroke-width="0.28">2.96, 95% CI:( 2.17&#8211;3.67)</text>
<text x="0.50" y="365.90" font-size="15.6" text-anchor="start" fill="#000" font-weight="bold" stroke="#000" stroke-width="0.35">G</text>
<rect x="42.5" y="354.5" width="443.20" height="25.50" fill="none" stroke="#333" stroke-width="1.1"/>
<line x1="42.50" y1="367.20" x2="485.70" y2="367.20" stroke="#333" stroke-width="0.9" />
<line x1="104.00" y1="354.50" x2="104.00" y2="380.00" stroke="#333" stroke-width="0.9" />
<line x1="265.00" y1="354.50" x2="265.00" y2="380.00" stroke="#333" stroke-width="0.9" />
<line x1="327.50" y1="354.50" x2="327.50" y2="380.00" stroke="#333" stroke-width="0.9" />
<text x="73.30" y="364.88" font-size="6.05" text-anchor="middle" fill="#231f20" font-weight="normal"  stroke="#231f20" stroke-width="0.28">Baseline</text>
<text x="73.30" y="374.36" font-size="6.0" text-anchor="middle" fill="#231f20" font-weight="normal"  stroke="#231f20" stroke-width="0.28">Placebo</text>
<text x="185.00" y="364.88" font-size="6.05" text-anchor="middle" fill="#231f20" font-weight="normal"  stroke="#231f20" stroke-width="0.28">Baseline</text>
<text x="185.00" y="374.36" font-size="6.0" text-anchor="middle" fill="#231f20" font-weight="normal"  stroke="#231f20" stroke-width="0.28">Placebo</text>
<text x="294.80" y="364.88" font-size="6.05" text-anchor="middle" fill="#231f20" font-weight="normal"  stroke="#231f20" stroke-width="0.28">Surgery</text>
<text x="294.80" y="374.36" font-size="6.0" text-anchor="middle" fill="#231f20" font-weight="normal"  stroke="#231f20" stroke-width="0.28">Placebo</text>
<text x="405.20" y="364.88" font-size="6.05" text-anchor="middle" fill="#231f20" font-weight="normal"  stroke="#231f20" stroke-width="0.28">Surgery</text>
<text x="405.20" y="374.36" font-size="6.0" text-anchor="middle" fill="#231f20" font-weight="normal"  stroke="#231f20" stroke-width="0.28">Palbociclib</text>
<defs><filter id="hb" x="-2%" y="-2%" width="104%" height="104%"><feGaussianBlur stdDeviation="0.45"/></filter></defs>
<g filter="url(#hb)">
<rect x="42.60" y="383.80" width="285.32" height="182.70" fill="#fbf3f2"/>
<rect x="327.92" y="383.80" width="158.08" height="182.70" fill="#f8f5f9"/>
<rect x="42.60" y="383.80" width="3.90" height="7.07" fill="#f7cfc4"/>
<rect x="46.46" y="383.80" width="3.90" height="7.07" fill="#f9e0d8"/>
<rect x="58.02" y="383.80" width="11.61" height="7.07" fill="#e9e2f1"/>
<rect x="69.59" y="383.80" width="34.74" height="7.07" fill="#d8d0e8"/>
<rect x="104.29" y="383.80" width="7.75" height="7.07" fill="#f3b2a2"/>
<rect x="115.86" y="383.80" width="3.90" height="7.07" fill="#f9e0d8"/>
<rect x="158.27" y="383.80" width="42.45" height="7.07" fill="#e9e2f1"/>
<rect x="200.68" y="383.80" width="65.59" height="7.07" fill="#d8d0e8"/>
<rect x="266.23" y="383.80" width="3.90" height="7.07" fill="#f7cfc4"/>
<rect x="270.08" y="383.80" width="19.32" height="7.07" fill="#f9e0d8"/>
<rect x="293.22" y="383.80" width="34.74" height="7.07" fill="#d8d0e8"/>
<rect x="327.92" y="383.80" width="15.46" height="7.07" fill="#f9e0d8"/>
<rect x="343.34" y="383.80" width="11.61" height="7.07" fill="#e9e2f1"/>
<rect x="354.91" y="383.80" width="131.13" height="7.07" fill="#d8d0e8"/>
<rect x="42.60" y="390.83" width="7.75" height="7.07" fill="#f7cfc4"/>
<rect x="50.31" y="390.83" width="3.90" height="7.07" fill="#b9b0d4"/>
<rect x="54.17" y="390.83" width="3.90" height="7.07" fill="#d8d0e8"/>
<rect x="58.02" y="390.83" width="3.90" height="7.07" fill="#b9b0d4"/>
<rect x="69.59" y="390.83" width="3.90" height="7.07" fill="#e9e2f1"/>
<rect x="73.45" y="390.83" width="3.90" height="7.07" fill="#d8d0e8"/>
<rect x="77.30" y="390.83" width="11.61" height="7.07" fill="#b9b0d4"/>
<rect x="88.87" y="390.83" width="7.75" height="7.07" fill="#d8d0e8"/>
<rect x="96.58" y="390.83" width="7.75" height="7.07" fill="#b9b0d4"/>
<rect x="112.00" y="390.83" width="3.90" height="7.07" fill="#b9b0d4"/>
<rect x="115.86" y="390.83" width="3.90" height="7.07" fill="#d8d0e8"/>
<rect x="119.71" y="390.83" width="3.90" height="7.07" fill="#f9e0d8"/>
<rect x="123.57" y="390.83" width="3.90" height="7.07" fill="#f3b2a2"/>
<rect x="127.42" y="390.83" width="3.90" height="7.07" fill="#f7cfc4"/>
<rect x="131.28" y="390.83" width="3.90" height="7.07" fill="#f9e0d8"/>
<rect x="150.56" y="390.83" width="7.75" height="7.07" fill="#b9b0d4"/>
<rect x="165.98" y="390.83" width="3.90" height="7.07" fill="#b9b0d4"/>
<rect x="181.40" y="390.83" width="3.90" height="7.07" fill="#d8d0e8"/>
<rect x="185.26" y="390.83" width="7.75" height="7.07" fill="#b9b0d4"/>
<rect x="192.97" y="390.83" width="3.90" height="7.07" fill="#d8d0e8"/>
<rect x="204.54" y="390.83" width="19.32" height="7.07" fill="#e9e2f1"/>
<rect x="223.82" y="390.83" width="27.03" height="7.07" fill="#d8d0e8"/>
<rect x="250.81" y="390.83" width="3.90" height="7.07" fill="#e9e2f1"/>
<rect x="254.66" y="390.83" width="7.75" height="7.07" fill="#b9b0d4"/>
<rect x="266.23" y="390.83" width="7.75" height="7.07" fill="#e9e2f1"/>
<rect x="273.94" y="390.83" width="7.75" height="7.07" fill="#b9b0d4"/>
<rect x="281.65" y="390.83" width="7.75" height="7.07" fill="#e9e2f1"/>
<rect x="289.36" y="390.83" width="54.02" height="7.07" fill="#c6bcdf"/>
<rect x="351.05" y="390.83" width="134.99" height="7.07" fill="#c6bcdf"/>
<rect x="42.60" y="397.85" width="15.46" height="7.07" fill="#f7cfc4"/>
<rect x="58.02" y="397.85" width="7.75" height="7.07" fill="#f9e0d8"/>
<rect x="65.73" y="397.85" width="7.75" height="7.07" fill="#f7cfc4"/>
<rect x="77.30" y="397.85" width="7.75" height="7.07" fill="#f9e0d8"/>
<rect x="85.01" y="397.85" width="3.90" height="7.07" fill="#f7cfc4"/>
<rect x="88.87" y="397.85" width="7.75" height="7.07" fill="#f9e0d8"/>
<rect x="104.29" y="397.85" width="7.75" height="7.07" fill="#f7cfc4"/>
<rect x="112.00" y="397.85" width="3.90" height="7.07" fill="#f9e0d8"/>
<rect x="115.86" y="397.85" width="46.31" height="7.07" fill="#f7cfc4"/>
<rect x="162.13" y="397.85" width="3.90" height="7.07" fill="#f9e0d8"/>
<rect x="169.84" y="397.85" width="3.90" height="7.07" fill="#f9e0d8"/>
<rect x="173.69" y="397.85" width="15.46" height="7.07" fill="#f7cfc4"/>
<rect x="189.11" y="397.85" width="3.90" height="7.07" fill="#f9e0d8"/>
<rect x="192.97" y="397.85" width="7.75" height="7.07" fill="#f7cfc4"/>
<rect x="200.68" y="397.85" width="11.61" height="7.07" fill="#f9e0d8"/>
<rect x="212.25" y="397.85" width="7.75" height="7.07" fill="#f7cfc4"/>
<rect x="219.96" y="397.85" width="3.90" height="7.07" fill="#f9e0d8"/>
<rect x="223.82" y="397.85" width="3.90" height="7.07" fill="#f7cfc4"/>
<rect x="243.09" y="397.85" width="3.90" height="7.07" fill="#f7cfc4"/>
<rect x="246.95" y="397.85" width="19.32" height="7.07" fill="#f9e0d8"/>
<rect x="266.23" y="397.85" width="7.75" height="7.07" fill="#f7cfc4"/>
<rect x="277.79" y="397.85" width="11.61" height="7.07" fill="#f7cfc4"/>
<rect x="289.36" y="397.85" width="3.90" height="7.07" fill="#f9e0d8"/>
<rect x="297.07" y="397.85" width="15.46" height="7.07" fill="#f9e0d8"/>
<rect x="324.06" y="397.85" width="7.75" height="7.07" fill="#f9e0d8"/>
<rect x="331.77" y="397.85" width="19.32" height="7.07" fill="#f7cfc4"/>
<rect x="351.05" y="397.85" width="3.90" height="7.07" fill="#f9e0d8"/>
<rect x="358.76" y="397.85" width="3.90" height="7.07" fill="#e9e2f1"/>
<rect x="366.47" y="397.85" width="3.90" height="7.07" fill="#b9b0d4"/>
<rect x="381.90" y="397.85" width="3.90" height="7.07" fill="#e9e2f1"/>
<rect x="389.61" y="397.85" width="3.90" height="7.07" fill="#f9e0d8"/>
<rect x="405.03" y="397.85" width="3.90" height="7.07" fill="#f9e0d8"/>
<rect x="428.17" y="397.85" width="3.90" height="7.07" fill="#8f88b8"/>
<rect x="470.58" y="397.85" width="7.75" height="7.07" fill="#e9e2f1"/>
<rect x="478.29" y="397.85" width="3.90" height="7.07" fill="#d8d0e8"/>
<rect x="482.14" y="397.85" width="3.90" height="7.07" fill="#8f88b8"/>
<rect x="42.60" y="404.88" width="3.90" height="7.07" fill="#f9e0d8"/>
<rect x="46.46" y="404.88" width="3.90" height="7.07" fill="#f7cfc4"/>
<rect x="50.31" y="404.88" width="3.90" height="7.07" fill="#f9e0d8"/>
<rect x="54.17" y="404.88" width="3.90" height="7.07" fill="#f7cfc4"/>
<rect x="61.88" y="404.88" width="3.90" height="7.07" fill="#f7cfc4"/>
<rect x="65.73" y="404.88" width="3.90" height="7.07" fill="#f9e0d8"/>
<rect x="73.45" y="404.88" width="3.90" height="7.07" fill="#e9e2f1"/>
<rect x="77.30" y="404.88" width="15.46" height="7.07" fill="#f9e0d8"/>
<rect x="104.29" y="404.88" width="3.90" height="7.07" fill="#f7cfc4"/>
<rect x="108.15" y="404.88" width="3.90" height="7.07" fill="#f9e0d8"/>
<rect x="115.86" y="404.88" width="11.61" height="7.07" fill="#f7cfc4"/>
<rect x="127.42" y="404.88" width="7.75" height="7.07" fill="#f9e0d8"/>
<rect x="135.14" y="404.88" width="3.90" height="7.07" fill="#f7cfc4"/>
<rect x="138.99" y="404.88" width="7.75" height="7.07" fill="#f9e0d8"/>
<rect x="154.41" y="404.88" width="3.90" height="7.07" fill="#f9e0d8"/>
<rect x="169.84" y="404.88" width="7.75" height="7.07" fill="#f9e0d8"/>
<rect x="177.55" y="404.88" width="3.90" height="7.07" fill="#f7cfc4"/>
<rect x="181.40" y="404.88" width="7.75" height="7.07" fill="#f9e0d8"/>
<rect x="192.97" y="404.88" width="7.75" height="7.07" fill="#f7cfc4"/>
<rect x="200.68" y="404.88" width="19.32" height="7.07" fill="#f9e0d8"/>
<rect x="223.82" y="404.88" width="3.90" height="7.07" fill="#f7cfc4"/>
<rect x="243.09" y="404.88" width="3.90" height="7.07" fill="#f9e0d8"/>
<rect x="250.81" y="404.88" width="7.75" height="7.07" fill="#f9e0d8"/>
<rect x="266.23" y="404.88" width="11.61" height="7.07" fill="#f7cfc4"/>
<rect x="277.79" y="404.88" width="3.90" height="7.07" fill="#f9e0d8"/>
<rect x="281.65" y="404.88" width="11.61" height="7.07" fill="#f7cfc4"/>
<rect x="297.07" y="404.88" width="19.32" height="7.07" fill="#f9e0d8"/>
<rect x="331.77" y="404.88" width="3.90" height="7.07" fill="#f7cfc4"/>
<rect x="335.63" y="404.88" width="15.46" height="7.07" fill="#f9e0d8"/>
<rect x="354.91" y="404.88" width="7.75" height="7.07" fill="#d8d0e8"/>
<rect x="366.47" y="404.88" width="3.90" height="7.07" fill="#d8d0e8"/>
<rect x="378.04" y="404.88" width="3.90" height="7.07" fill="#e9e2f1"/>
<rect x="381.90" y="404.88" width="3.90" height="7.07" fill="#d8d0e8"/>
<rect x="389.61" y="404.88" width="3.90" height="7.07" fill="#f9e0d8"/>
<rect x="397.32" y="404.88" width="3.90" height="7.07" fill="#e9e2f1"/>
<rect x="405.03" y="404.88" width="3.90" height="7.07" fill="#d8d0e8"/>
<rect x="412.74" y="404.88" width="3.90" height="7.07" fill="#d8d0e8"/>
<rect x="416.60" y="404.88" width="3.90" height="7.07" fill="#e9e2f1"/>
<rect x="420.45" y="404.88" width="3.90" height="7.07" fill="#d8d0e8"/>
<rect x="424.31" y="404.88" width="3.90" height="7.07" fill="#e9e2f1"/>
<rect x="428.17" y="404.88" width="3.90" height="7.07" fill="#b9b0d4"/>
<rect x="439.73" y="404.88" width="3.90" height="7.07" fill="#b9b0d4"/>
<rect x="443.59" y="404.88" width="3.90" height="7.07" fill="#e9e2f1"/>
<rect x="447.44" y="404.88" width="11.61" height="7.07" fill="#d8d0e8"/>
<rect x="459.01" y="404.88" width="3.90" height="7.07" fill="#e9e2f1"/>
<rect x="466.72" y="404.88" width="7.75" height="7.07" fill="#d8d0e8"/>
<rect x="474.43" y="404.88" width="11.61" height="7.07" fill="#e9e2f1"/>
<rect x="42.60" y="411.91" width="3.90" height="7.07" fill="#f9e0d8"/>
<rect x="46.46" y="411.91" width="3.90" height="7.07" fill="#f7cfc4"/>
<rect x="50.31" y="411.91" width="3.90" height="7.07" fill="#f9e0d8"/>
<rect x="54.17" y="411.91" width="3.90" height="7.07" fill="#f7cfc4"/>
<rect x="61.88" y="411.91" width="7.75" height="7.07" fill="#f9e0d8"/>
<rect x="73.45" y="411.91" width="3.90" height="7.07" fill="#8f88b8"/>
<rect x="77.30" y="411.91" width="3.90" height="7.07" fill="#f9e0d8"/>
<rect x="81.16" y="411.91" width="7.75" height="7.07" fill="#f7cfc4"/>
<rect x="88.87" y="411.91" width="3.90" height="7.07" fill="#d8d0e8"/>
<rect x="104.29" y="411.91" width="3.90" height="7.07" fill="#f7cfc4"/>
<rect x="108.15" y="411.91" width="7.75" height="7.07" fill="#f9e0d8"/>
<rect x="115.86" y="411.91" width="23.17" height="7.07" fill="#f7cfc4"/>
<rect x="138.99" y="411.91" width="11.61" height="7.07" fill="#f9e0d8"/>
<rect x="150.56" y="411.91" width="3.90" height="7.07" fill="#f7cfc4"/>
<rect x="154.41" y="411.91" width="3.90" height="7.07" fill="#f9e0d8"/>
<rect x="169.84" y="411.91" width="3.90" height="7.07" fill="#f9e0d8"/>
<rect x="173.69" y="411.91" width="7.75" height="7.07" fill="#f7cfc4"/>
<rect x="181.40" y="411.91" width="11.61" height="7.07" fill="#f9e0d8"/>
<rect x="192.97" y="411.91" width="7.75" height="7.07" fill="#f7cfc4"/>
<rect x="200.68" y="411.91" width="11.61" height="7.07" fill="#f9e0d8"/>
<rect x="212.25" y="411.91" width="3.90" height="7.07" fill="#f7cfc4"/>
<rect x="216.10" y="411.91" width="3.90" height="7.07" fill="#f9e0d8"/>
<rect x="219.96" y="411.91" width="7.75" height="7.07" fill="#f7cfc4"/>
<rect x="227.67" y="411.91" width="3.90" height="7.07" fill="#f9e0d8"/>
<rect x="243.09" y="411.91" width="3.90" height="7.07" fill="#f7cfc4"/>
<rect x="246.95" y="411.91" width="7.75" height="7.07" fill="#f9e0d8"/>
<rect x="266.23" y="411.91" width="7.75" height="7.07" fill="#f7cfc4"/>
<rect x="273.94" y="411.91" width="3.90" height="7.07" fill="#f3b2a2"/>
<rect x="277.79" y="411.91" width="3.90" height="7.07" fill="#f9e0d8"/>
<rect x="281.65" y="411.91" width="7.75" height="7.07" fill="#f7cfc4"/>
<rect x="289.36" y="411.91" width="3.90" height="7.07" fill="#f9e0d8"/>
<rect x="297.07" y="411.91" width="3.90" height="7.07" fill="#f9e0d8"/>
<rect x="308.64" y="411.91" width="3.90" height="7.07" fill="#f7cfc4"/>
<rect x="312.50" y="411.91" width="3.90" height="7.07" fill="#f9e0d8"/>
<rect x="331.77" y="411.91" width="11.61" height="7.07" fill="#f7cfc4"/>
<rect x="347.20" y="411.91" width="7.75" height="7.07" fill="#f7cfc4"/>
<rect x="354.91" y="411.91" width="7.75" height="7.07" fill="#d8d0e8"/>
<rect x="366.47" y="411.91" width="3.90" height="7.07" fill="#b9b0d4"/>
<rect x="385.75" y="411.91" width="7.75" height="7.07" fill="#e9e2f1"/>
<rect x="420.45" y="411.91" width="3.90" height="7.07" fill="#e9e2f1"/>
<rect x="424.31" y="411.91" width="3.90" height="7.07" fill="#d8d0e8"/>
<rect x="428.17" y="411.91" width="3.90" height="7.07" fill="#b9b0d4"/>
<rect x="439.73" y="411.91" width="15.46" height="7.07" fill="#e9e2f1"/>
<rect x="466.72" y="411.91" width="3.90" height="7.07" fill="#b9b0d4"/>
<rect x="470.58" y="411.91" width="3.90" height="7.07" fill="#d8d0e8"/>
<rect x="474.43" y="411.91" width="11.61" height="7.07" fill="#e9e2f1"/>
<rect x="42.60" y="418.94" width="3.90" height="7.07" fill="#f9e0d8"/>
<rect x="46.46" y="418.94" width="3.90" height="7.07" fill="#f7cfc4"/>
<rect x="50.31" y="418.94" width="3.90" height="7.07" fill="#f9e0d8"/>
<rect x="54.17" y="418.94" width="3.90" height="7.07" fill="#f7cfc4"/>
<rect x="61.88" y="418.94" width="3.90" height="7.07" fill="#f7cfc4"/>
<rect x="73.45" y="418.94" width="3.90" height="7.07" fill="#b9b0d4"/>
<rect x="81.16" y="418.94" width="3.90" height="7.07" fill="#f9e0d8"/>
<rect x="100.43" y="418.94" width="3.90" height="7.07" fill="#d8d0e8"/>
<rect x="104.29" y="418.94" width="3.90" height="7.07" fill="#f9e0d8"/>
<rect x="112.00" y="418.94" width="3.90" height="7.07" fill="#d8d0e8"/>
<rect x="115.86" y="418.94" width="3.90" height="7.07" fill="#f9e0d8"/>
<rect x="119.71" y="418.94" width="7.75" height="7.07" fill="#f7cfc4"/>
<rect x="127.42" y="418.94" width="7.75" height="7.07" fill="#f9e0d8"/>
<rect x="135.14" y="418.94" width="3.90" height="7.07" fill="#f7cfc4"/>
<rect x="138.99" y="418.94" width="7.75" height="7.07" fill="#f9e0d8"/>
<rect x="154.41" y="418.94" width="3.90" height="7.07" fill="#f9e0d8"/>
<rect x="162.13" y="418.94" width="3.90" height="7.07" fill="#e9e2f1"/>
<rect x="169.84" y="418.94" width="19.32" height="7.07" fill="#f9e0d8"/>
<rect x="192.97" y="418.94" width="3.90" height="7.07" fill="#f7cfc4"/>
<rect x="196.83" y="418.94" width="11.61" height="7.07" fill="#f9e0d8"/>
<rect x="212.25" y="418.94" width="7.75" height="7.07" fill="#f9e0d8"/>
<rect x="223.82" y="418.94" width="3.90" height="7.07" fill="#f9e0d8"/>
<rect x="235.38" y="418.94" width="3.90" height="7.07" fill="#e9e2f1"/>
<rect x="243.09" y="418.94" width="3.90" height="7.07" fill="#f9e0d8"/>
<rect x="250.81" y="418.94" width="3.90" height="7.07" fill="#e9e2f1"/>
<rect x="262.37" y="418.94" width="3.90" height="7.07" fill="#d8d0e8"/>
<rect x="266.23" y="418.94" width="11.61" height="7.07" fill="#f7cfc4"/>
<rect x="277.79" y="418.94" width="15.46" height="7.07" fill="#f9e0d8"/>
<rect x="300.93" y="418.94" width="15.46" height="7.07" fill="#f9e0d8"/>
<rect x="316.35" y="418.94" width="3.90" height="7.07" fill="#d8d0e8"/>
<rect x="331.77" y="418.94" width="3.90" height="7.07" fill="#f7cfc4"/>
<rect x="335.63" y="418.94" width="7.75" height="7.07" fill="#f9e0d8"/>
<rect x="347.20" y="418.94" width="3.90" height="7.07" fill="#f9e0d8"/>
<rect x="358.76" y="418.94" width="3.90" height="7.07" fill="#b9b0d4"/>
<rect x="362.62" y="418.94" width="3.90" height="7.07" fill="#e9e2f1"/>
<rect x="370.33" y="418.94" width="3.90" height="7.07" fill="#e9e2f1"/>
<rect x="378.04" y="418.94" width="3.90" height="7.07" fill="#f9e0d8"/>
<rect x="381.90" y="418.94" width="7.75" height="7.07" fill="#d8d0e8"/>
<rect x="389.61" y="418.94" width="7.75" height="7.07" fill="#e9e2f1"/>
<rect x="401.18" y="418.94" width="3.90" height="7.07" fill="#b9b0d4"/>
<rect x="408.89" y="418.94" width="3.90" height="7.07" fill="#d8d0e8"/>
<rect x="416.60" y="418.94" width="15.46" height="7.07" fill="#d8d0e8"/>
<rect x="435.88" y="418.94" width="11.61" height="7.07" fill="#d8d0e8"/>
<rect x="447.44" y="418.94" width="3.90" height="7.07" fill="#e9e2f1"/>
<rect x="451.30" y="418.94" width="23.17" height="7.07" fill="#d8d0e8"/>
<rect x="474.43" y="418.94" width="7.75" height="7.07" fill="#e9e2f1"/>
<rect x="482.14" y="418.94" width="3.90" height="7.07" fill="#d8d0e8"/>
<rect x="42.60" y="425.96" width="3.90" height="7.07" fill="#f9e0d8"/>
<rect x="46.46" y="425.96" width="11.61" height="7.07" fill="#f7cfc4"/>
<rect x="61.88" y="425.96" width="3.90" height="7.07" fill="#f9e0d8"/>
<rect x="73.45" y="425.96" width="3.90" height="7.07" fill="#8f88b8"/>
<rect x="77.30" y="425.96" width="11.61" height="7.07" fill="#f7cfc4"/>
<rect x="104.29" y="425.96" width="3.90" height="7.07" fill="#f7cfc4"/>
<rect x="108.15" y="425.96" width="3.90" height="7.07" fill="#f9e0d8"/>
<rect x="115.86" y="425.96" width="19.32" height="7.07" fill="#f7cfc4"/>
<rect x="135.14" y="425.96" width="11.61" height="7.07" fill="#f9e0d8"/>
<rect x="150.56" y="425.96" width="3.90" height="7.07" fill="#f9e0d8"/>
<rect x="154.41" y="425.96" width="3.90" height="7.07" fill="#f7cfc4"/>
<rect x="169.84" y="425.96" width="3.90" height="7.07" fill="#f9e0d8"/>
<rect x="173.69" y="425.96" width="11.61" height="7.07" fill="#f7cfc4"/>
<rect x="185.26" y="425.96" width="7.75" height="7.07" fill="#f9e0d8"/>
<rect x="192.97" y="425.96" width="15.46" height="7.07" fill="#f7cfc4"/>
<rect x="208.39" y="425.96" width="3.90" height="7.07" fill="#f9e0d8"/>
<rect x="212.25" y="425.96" width="7.75" height="7.07" fill="#f7cfc4"/>
<rect x="219.96" y="425.96" width="3.90" height="7.07" fill="#f9e0d8"/>
<rect x="223.82" y="425.96" width="3.90" height="7.07" fill="#f7cfc4"/>
<rect x="227.67" y="425.96" width="11.61" height="7.07" fill="#f9e0d8"/>
<rect x="243.09" y="425.96" width="11.61" height="7.07" fill="#f9e0d8"/>
<rect x="266.23" y="425.96" width="27.03" height="7.07" fill="#f7cfc4"/>
<rect x="293.22" y="425.96" width="7.75" height="7.07" fill="#f9e0d8"/>
<rect x="300.93" y="425.96" width="15.46" height="7.07" fill="#f7cfc4"/>
<rect x="316.35" y="425.96" width="7.75" height="7.07" fill="#f9e0d8"/>
<rect x="327.92" y="425.96" width="3.90" height="7.07" fill="#f9e0d8"/>
<rect x="331.77" y="425.96" width="23.17" height="7.07" fill="#f7cfc4"/>
<rect x="370.33" y="425.96" width="15.46" height="7.07" fill="#f9e0d8"/>
<rect x="389.61" y="425.96" width="3.90" height="7.07" fill="#f9e0d8"/>
<rect x="401.18" y="425.96" width="7.75" height="7.07" fill="#f9e0d8"/>
<rect x="412.74" y="425.96" width="3.90" height="7.07" fill="#f9e0d8"/>
<rect x="428.17" y="425.96" width="3.90" height="7.07" fill="#e9e2f1"/>
<rect x="447.44" y="425.96" width="3.90" height="7.07" fill="#8f88b8"/>
<rect x="462.87" y="425.96" width="3.90" height="7.07" fill="#e9e2f1"/>
<rect x="478.29" y="425.96" width="3.90" height="7.07" fill="#8f88b8"/>
<rect x="42.60" y="432.99" width="3.90" height="7.07" fill="#f9e0d8"/>
<rect x="46.46" y="432.99" width="11.61" height="7.07" fill="#f7cfc4"/>
<rect x="61.88" y="432.99" width="3.90" height="7.07" fill="#f7cfc4"/>
<rect x="73.45" y="432.99" width="3.90" height="7.07" fill="#4d4592"/>
<rect x="81.16" y="432.99" width="3.90" height="7.07" fill="#f9e0d8"/>
<rect x="85.01" y="432.99" width="3.90" height="7.07" fill="#f7cfc4"/>
<rect x="92.72" y="432.99" width="3.90" height="7.07" fill="#f9e0d8"/>
<rect x="104.29" y="432.99" width="7.75" height="7.07" fill="#f7cfc4"/>
<rect x="112.00" y="432.99" width="3.90" height="7.07" fill="#f9e0d8"/>
<rect x="115.86" y="432.99" width="11.61" height="7.07" fill="#f7cfc4"/>
<rect x="127.42" y="432.99" width="3.90" height="7.07" fill="#f9e0d8"/>
<rect x="131.28" y="432.99" width="3.90" height="7.07" fill="#f7cfc4"/>
<rect x="135.14" y="432.99" width="3.90" height="7.07" fill="#f9e0d8"/>
<rect x="142.85" y="432.99" width="3.90" height="7.07" fill="#e9e2f1"/>
<rect x="150.56" y="432.99" width="3.90" height="7.07" fill="#d8d0e8"/>
<rect x="154.41" y="432.99" width="3.90" height="7.07" fill="#f9e0d8"/>
<rect x="169.84" y="432.99" width="3.90" height="7.07" fill="#f9e0d8"/>
<rect x="173.69" y="432.99" width="7.75" height="7.07" fill="#f7cfc4"/>
<rect x="181.40" y="432.99" width="7.75" height="7.07" fill="#f9e0d8"/>
<rect x="192.97" y="432.99" width="7.75" height="7.07" fill="#f7cfc4"/>
<rect x="200.68" y="432.99" width="11.61" height="7.07" fill="#f9e0d8"/>
<rect x="212.25" y="432.99" width="3.90" height="7.07" fill="#f7cfc4"/>
<rect x="216.10" y="432.99" width="3.90" height="7.07" fill="#f9e0d8"/>
<rect x="223.82" y="432.99" width="3.90" height="7.07" fill="#f7cfc4"/>
<rect x="235.38" y="432.99" width="3.90" height="7.07" fill="#f9e0d8"/>
<rect x="243.09" y="432.99" width="11.61" height="7.07" fill="#f9e0d8"/>
<rect x="266.23" y="432.99" width="27.03" height="7.07" fill="#f7cfc4"/>
<rect x="297.07" y="432.99" width="3.90" height="7.07" fill="#f9e0d8"/>
<rect x="304.78" y="432.99" width="11.61" height="7.07" fill="#f7cfc4"/>
<rect x="316.35" y="432.99" width="3.90" height="7.07" fill="#f9e0d8"/>
<rect x="327.92" y="432.99" width="3.90" height="7.07" fill="#f9e0d8"/>
<rect x="331.77" y="432.99" width="19.32" height="7.07" fill="#f7cfc4"/>
<rect x="351.05" y="432.99" width="3.90" height="7.07" fill="#f9e0d8"/>
<rect x="354.91" y="432.99" width="7.75" height="7.07" fill="#b9b0d4"/>
<rect x="362.62" y="432.99" width="3.90" height="7.07" fill="#d8d0e8"/>
<rect x="366.47" y="432.99" width="3.90" height="7.07" fill="#e9e2f1"/>
<rect x="389.61" y="432.99" width="3.90" height="7.07" fill="#f3b2a2"/>
<rect x="393.46" y="432.99" width="3.90" height="7.07" fill="#b9b0d4"/>
<rect x="401.18" y="432.99" width="3.90" height="7.07" fill="#e9e2f1"/>
<rect x="416.60" y="432.99" width="3.90" height="7.07" fill="#e9e2f1"/>
<rect x="428.17" y="432.99" width="3.90" height="7.07" fill="#e9e2f1"/>
<rect x="443.59" y="432.99" width="19.32" height="7.07" fill="#e9e2f1"/>
<rect x="466.72" y="432.99" width="3.90" height="7.07" fill="#d8d0e8"/>
<rect x="482.14" y="432.99" width="3.90" height="7.07" fill="#e9e2f1"/>
<rect x="42.60" y="440.02" width="15.46" height="7.07" fill="#f7cfc4"/>
<rect x="61.88" y="440.02" width="3.90" height="7.07" fill="#f9e0d8"/>
<rect x="65.73" y="440.02" width="3.90" height="7.07" fill="#e9e2f1"/>
<rect x="73.45" y="440.02" width="7.75" height="7.07" fill="#d8d0e8"/>
<rect x="85.01" y="440.02" width="3.90" height="7.07" fill="#f9e0d8"/>
<rect x="100.43" y="440.02" width="3.90" height="7.07" fill="#e9e2f1"/>
<rect x="104.29" y="440.02" width="3.90" height="7.07" fill="#f9e0d8"/>
<rect x="115.86" y="440.02" width="15.46" height="7.07" fill="#f7cfc4"/>
<rect x="131.28" y="440.02" width="7.75" height="7.07" fill="#f9e0d8"/>
<rect x="138.99" y="440.02" width="3.90" height="7.07" fill="#e9e2f1"/>
<rect x="162.13" y="440.02" width="3.90" height="7.07" fill="#d8d0e8"/>
<rect x="169.84" y="440.02" width="3.90" height="7.07" fill="#f9e0d8"/>
<rect x="173.69" y="440.02" width="7.75" height="7.07" fill="#f7cfc4"/>
<rect x="181.40" y="440.02" width="7.75" height="7.07" fill="#f9e0d8"/>
<rect x="192.97" y="440.02" width="7.75" height="7.07" fill="#f7cfc4"/>
<rect x="200.68" y="440.02" width="11.61" height="7.07" fill="#f9e0d8"/>
<rect x="212.25" y="440.02" width="3.90" height="7.07" fill="#e9e2f1"/>
<rect x="223.82" y="440.02" width="3.90" height="7.07" fill="#f7cfc4"/>
<rect x="243.09" y="440.02" width="7.75" height="7.07" fill="#f9e0d8"/>
<rect x="262.37" y="440.02" width="3.90" height="7.07" fill="#e9e2f1"/>
<rect x="266.23" y="440.02" width="15.46" height="7.07" fill="#f7cfc4"/>
<rect x="281.65" y="440.02" width="7.75" height="7.07" fill="#f9e0d8"/>
<rect x="297.07" y="440.02" width="7.75" height="7.07" fill="#f9e0d8"/>
<rect x="324.06" y="440.02" width="3.90" height="7.07" fill="#b9b0d4"/>
<rect x="331.77" y="440.02" width="7.75" height="7.07" fill="#f9e0d8"/>
<rect x="347.20" y="440.02" width="3.90" height="7.07" fill="#f9e0d8"/>
<rect x="354.91" y="440.02" width="3.90" height="7.07" fill="#e9e2f1"/>
<rect x="358.76" y="440.02" width="3.90" height="7.07" fill="#b9b0d4"/>
<rect x="374.19" y="440.02" width="7.75" height="7.07" fill="#f9e0d8"/>
<rect x="393.46" y="440.02" width="3.90" height="7.07" fill="#b9b0d4"/>
<rect x="397.32" y="440.02" width="11.61" height="7.07" fill="#d8d0e8"/>
<rect x="412.74" y="440.02" width="3.90" height="7.07" fill="#b9b0d4"/>
<rect x="416.60" y="440.02" width="3.90" height="7.07" fill="#e9e2f1"/>
<rect x="428.17" y="440.02" width="3.90" height="7.07" fill="#b9b0d4"/>
<rect x="439.73" y="440.02" width="7.75" height="7.07" fill="#e9e2f1"/>
<rect x="447.44" y="440.02" width="3.90" height="7.07" fill="#8f88b8"/>
<rect x="459.01" y="440.02" width="3.90" height="7.07" fill="#d8d0e8"/>
<rect x="466.72" y="440.02" width="3.90" height="7.07" fill="#4d4592"/>
<rect x="470.58" y="440.02" width="3.90" height="7.07" fill="#e9e2f1"/>
<rect x="478.29" y="440.02" width="3.90" height="7.07" fill="#d8d0e8"/>
<rect x="482.14" y="440.02" width="3.90" height="7.07" fill="#e9e2f1"/>
<rect x="42.60" y="447.04" width="3.90" height="7.07" fill="#f9e0d8"/>
<rect x="46.46" y="447.04" width="3.90" height="7.07" fill="#f7cfc4"/>
<rect x="54.17" y="447.04" width="3.90" height="7.07" fill="#f7cfc4"/>
<rect x="61.88" y="447.04" width="3.90" height="7.07" fill="#f9e0d8"/>
<rect x="73.45" y="447.04" width="3.90" height="7.07" fill="#d8d0e8"/>
<rect x="85.01" y="447.04" width="7.75" height="7.07" fill="#f9e0d8"/>
<rect x="92.72" y="447.04" width="3.90" height="7.07" fill="#b9b0d4"/>
<rect x="100.43" y="447.04" width="3.90" height="7.07" fill="#e9e2f1"/>
<rect x="104.29" y="447.04" width="3.90" height="7.07" fill="#f9e0d8"/>
<rect x="115.86" y="447.04" width="15.46" height="7.07" fill="#f7cfc4"/>
<rect x="131.28" y="447.04" width="7.75" height="7.07" fill="#f9e0d8"/>
<rect x="150.56" y="447.04" width="3.90" height="7.07" fill="#f7cfc4"/>
<rect x="162.13" y="447.04" width="3.90" height="7.07" fill="#b9b0d4"/>
<rect x="173.69" y="447.04" width="7.75" height="7.07" fill="#f7cfc4"/>
<rect x="181.40" y="447.04" width="7.75" height="7.07" fill="#f9e0d8"/>
<rect x="192.97" y="447.04" width="7.75" height="7.07" fill="#f7cfc4"/>
<rect x="200.68" y="447.04" width="15.46" height="7.07" fill="#f9e0d8"/>
<rect x="223.82" y="447.04" width="3.90" height="7.07" fill="#f7cfc4"/>
<rect x="243.09" y="447.04" width="3.90" height="7.07" fill="#f7cfc4"/>
<rect x="250.81" y="447.04" width="3.90" height="7.07" fill="#f9e0d8"/>
<rect x="266.23" y="447.04" width="19.32" height="7.07" fill="#f7cfc4"/>
<rect x="285.51" y="447.04" width="7.75" height="7.07" fill="#f9e0d8"/>
<rect x="308.64" y="447.04" width="7.75" height="7.07" fill="#f7cfc4"/>
<rect x="331.77" y="447.04" width="7.75" height="7.07" fill="#f7cfc4"/>
<rect x="354.91" y="447.04" width="11.61" height="7.07" fill="#d8d0e8"/>
<rect x="366.47" y="447.04" width="3.90" height="7.07" fill="#e9e2f1"/>
<rect x="378.04" y="447.04" width="3.90" height="7.07" fill="#e9e2f1"/>
<rect x="385.75" y="447.04" width="3.90" height="7.07" fill="#e9e2f1"/>
<rect x="397.32" y="447.04" width="3.90" height="7.07" fill="#e9e2f1"/>
<rect x="405.03" y="447.04" width="3.90" height="7.07" fill="#e9e2f1"/>
<rect x="412.74" y="447.04" width="3.90" height="7.07" fill="#e9e2f1"/>
<rect x="420.45" y="447.04" width="11.61" height="7.07" fill="#d8d0e8"/>
<rect x="435.88" y="447.04" width="11.61" height="7.07" fill="#e9e2f1"/>
<rect x="447.44" y="447.04" width="7.75" height="7.07" fill="#d8d0e8"/>
<rect x="455.15" y="447.04" width="15.46" height="7.07" fill="#e9e2f1"/>
<rect x="470.58" y="447.04" width="3.90" height="7.07" fill="#d8d0e8"/>
<rect x="474.43" y="447.04" width="11.61" height="7.07" fill="#e9e2f1"/>
<rect x="42.60" y="454.07" width="3.90" height="7.07" fill="#f9e0d8"/>
<rect x="46.46" y="454.07" width="3.90" height="7.07" fill="#f7cfc4"/>
<rect x="54.17" y="454.07" width="3.90" height="7.07" fill="#f7cfc4"/>
<rect x="58.02" y="454.07" width="3.90" height="7.07" fill="#e9e2f1"/>
<rect x="61.88" y="454.07" width="3.90" height="7.07" fill="#f9e0d8"/>
<rect x="73.45" y="454.07" width="3.90" height="7.07" fill="#b9b0d4"/>
<rect x="85.01" y="454.07" width="3.90" height="7.07" fill="#f9e0d8"/>
<rect x="88.87" y="454.07" width="3.90" height="7.07" fill="#e9e2f1"/>
<rect x="100.43" y="454.07" width="3.90" height="7.07" fill="#d8d0e8"/>
<rect x="104.29" y="454.07" width="3.90" height="7.07" fill="#f9e0d8"/>
<rect x="112.00" y="454.07" width="3.90" height="7.07" fill="#d8d0e8"/>
<rect x="115.86" y="454.07" width="3.90" height="7.07" fill="#f9e0d8"/>
<rect x="119.71" y="454.07" width="11.61" height="7.07" fill="#f7cfc4"/>
<rect x="131.28" y="454.07" width="7.75" height="7.07" fill="#f9e0d8"/>
<rect x="138.99" y="454.07" width="3.90" height="7.07" fill="#b9b0d4"/>
<rect x="150.56" y="454.07" width="7.75" height="7.07" fill="#f7cfc4"/>
<rect x="162.13" y="454.07" width="3.90" height="7.07" fill="#b9b0d4"/>
<rect x="169.84" y="454.07" width="3.90" height="7.07" fill="#f9e0d8"/>
<rect x="173.69" y="454.07" width="7.75" height="7.07" fill="#f7cfc4"/>
<rect x="181.40" y="454.07" width="3.90" height="7.07" fill="#d8d0e8"/>
<rect x="185.26" y="454.07" width="3.90" height="7.07" fill="#f9e0d8"/>
<rect x="192.97" y="454.07" width="3.90" height="7.07" fill="#f7cfc4"/>
<rect x="196.83" y="454.07" width="11.61" height="7.07" fill="#f9e0d8"/>
<rect x="212.25" y="454.07" width="3.90" height="7.07" fill="#f9e0d8"/>
<rect x="223.82" y="454.07" width="3.90" height="7.07" fill="#f7cfc4"/>
<rect x="239.24" y="454.07" width="3.90" height="7.07" fill="#e9e2f1"/>
<rect x="243.09" y="454.07" width="3.90" height="7.07" fill="#f7cfc4"/>
<rect x="262.37" y="454.07" width="3.90" height="7.07" fill="#d8d0e8"/>
<rect x="266.23" y="454.07" width="19.32" height="7.07" fill="#f7cfc4"/>
<rect x="285.51" y="454.07" width="7.75" height="7.07" fill="#f9e0d8"/>
<rect x="304.78" y="454.07" width="3.90" height="7.07" fill="#e9e2f1"/>
<rect x="308.64" y="454.07" width="3.90" height="7.07" fill="#f9e0d8"/>
<rect x="320.21" y="454.07" width="7.75" height="7.07" fill="#d8d0e8"/>
<rect x="331.77" y="454.07" width="7.75" height="7.07" fill="#f9e0d8"/>
<rect x="347.20" y="454.07" width="3.90" height="7.07" fill="#f9e0d8"/>
<rect x="354.91" y="454.07" width="3.90" height="7.07" fill="#e9e2f1"/>
<rect x="358.76" y="454.07" width="3.90" height="7.07" fill="#8f88b8"/>
<rect x="362.62" y="454.07" width="3.90" height="7.07" fill="#e9e2f1"/>
<rect x="374.19" y="454.07" width="3.90" height="7.07" fill="#e9e2f1"/>
<rect x="378.04" y="454.07" width="3.90" height="7.07" fill="#b9b0d4"/>
<rect x="381.90" y="454.07" width="7.75" height="7.07" fill="#d8d0e8"/>
<rect x="397.32" y="454.07" width="7.75" height="7.07" fill="#d8d0e8"/>
<rect x="405.03" y="454.07" width="3.90" height="7.07" fill="#e9e2f1"/>
<rect x="412.74" y="454.07" width="15.46" height="7.07" fill="#d8d0e8"/>
<rect x="428.17" y="454.07" width="3.90" height="7.07" fill="#e9e2f1"/>
<rect x="439.73" y="454.07" width="3.90" height="7.07" fill="#e9e2f1"/>
<rect x="443.59" y="454.07" width="3.90" height="7.07" fill="#d8d0e8"/>
<rect x="447.44" y="454.07" width="7.75" height="7.07" fill="#e9e2f1"/>
<rect x="455.15" y="454.07" width="15.46" height="7.07" fill="#d8d0e8"/>
<rect x="470.58" y="454.07" width="3.90" height="7.07" fill="#e9e2f1"/>
<rect x="474.43" y="454.07" width="3.90" height="7.07" fill="#d8d0e8"/>
<rect x="478.29" y="454.07" width="7.75" height="7.07" fill="#e9e2f1"/>
<rect x="42.60" y="461.10" width="3.90" height="7.07" fill="#f9e0d8"/>
<rect x="46.46" y="461.10" width="3.90" height="7.07" fill="#f7cfc4"/>
<rect x="50.31" y="461.10" width="3.90" height="7.07" fill="#f9e0d8"/>
<rect x="54.17" y="461.10" width="3.90" height="7.07" fill="#f7cfc4"/>
<rect x="58.02" y="461.10" width="3.90" height="7.07" fill="#e9e2f1"/>
<rect x="73.45" y="461.10" width="3.90" height="7.07" fill="#b9b0d4"/>
<rect x="85.01" y="461.10" width="3.90" height="7.07" fill="#f9e0d8"/>
<rect x="88.87" y="461.10" width="3.90" height="7.07" fill="#e9e2f1"/>
<rect x="100.43" y="461.10" width="3.90" height="7.07" fill="#d8d0e8"/>
<rect x="104.29" y="461.10" width="3.90" height="7.07" fill="#f9e0d8"/>
<rect x="115.86" y="461.10" width="11.61" height="7.07" fill="#f7cfc4"/>
<rect x="127.42" y="461.10" width="11.61" height="7.07" fill="#f9e0d8"/>
<rect x="142.85" y="461.10" width="3.90" height="7.07" fill="#f9e0d8"/>
<rect x="154.41" y="461.10" width="3.90" height="7.07" fill="#b9b0d4"/>
<rect x="169.84" y="461.10" width="3.90" height="7.07" fill="#f9e0d8"/>
<rect x="173.69" y="461.10" width="7.75" height="7.07" fill="#f7cfc4"/>
<rect x="181.40" y="461.10" width="7.75" height="7.07" fill="#f9e0d8"/>
<rect x="192.97" y="461.10" width="7.75" height="7.07" fill="#f7cfc4"/>
<rect x="200.68" y="461.10" width="3.90" height="7.07" fill="#f9e0d8"/>
<rect x="223.82" y="461.10" width="3.90" height="7.07" fill="#f7cfc4"/>
<rect x="231.53" y="461.10" width="3.90" height="7.07" fill="#e9e2f1"/>
<rect x="239.24" y="461.10" width="3.90" height="7.07" fill="#e9e2f1"/>
<rect x="243.09" y="461.10" width="3.90" height="7.07" fill="#f7cfc4"/>
<rect x="250.81" y="461.10" width="3.90" height="7.07" fill="#f7cfc4"/>
<rect x="266.23" y="461.10" width="23.17" height="7.07" fill="#f7cfc4"/>
<rect x="289.36" y="461.10" width="3.90" height="7.07" fill="#f9e0d8"/>
<rect x="304.78" y="461.10" width="7.75" height="7.07" fill="#f9e0d8"/>
<rect x="331.77" y="461.10" width="3.90" height="7.07" fill="#f9e0d8"/>
<rect x="339.49" y="461.10" width="11.61" height="7.07" fill="#e9e2f1"/>
<rect x="351.05" y="461.10" width="15.46" height="7.07" fill="#d8d0e8"/>
<rect x="366.47" y="461.10" width="3.90" height="7.07" fill="#e9e2f1"/>
<rect x="374.19" y="461.10" width="3.90" height="7.07" fill="#d8d0e8"/>
<rect x="378.04" y="461.10" width="11.61" height="7.07" fill="#e9e2f1"/>
<rect x="397.32" y="461.10" width="3.90" height="7.07" fill="#e9e2f1"/>
<rect x="405.03" y="461.10" width="3.90" height="7.07" fill="#e9e2f1"/>
<rect x="412.74" y="461.10" width="3.90" height="7.07" fill="#d8d0e8"/>
<rect x="416.60" y="461.10" width="3.90" height="7.07" fill="#e9e2f1"/>
<rect x="424.31" y="461.10" width="3.90" height="7.07" fill="#d8d0e8"/>
<rect x="428.17" y="461.10" width="3.90" height="7.07" fill="#b9b0d4"/>
<rect x="435.88" y="461.10" width="3.90" height="7.07" fill="#e9e2f1"/>
<rect x="439.73" y="461.10" width="3.90" height="7.07" fill="#b9b0d4"/>
<rect x="443.59" y="461.10" width="7.75" height="7.07" fill="#e9e2f1"/>
<rect x="451.30" y="461.10" width="3.90" height="7.07" fill="#d8d0e8"/>
<rect x="455.15" y="461.10" width="11.61" height="7.07" fill="#e9e2f1"/>
<rect x="466.72" y="461.10" width="3.90" height="7.07" fill="#d8d0e8"/>
<rect x="470.58" y="461.10" width="7.75" height="7.07" fill="#e9e2f1"/>
<rect x="478.29" y="461.10" width="3.90" height="7.07" fill="#b9b0d4"/>
<rect x="482.14" y="461.10" width="3.90" height="7.07" fill="#e9e2f1"/>
<rect x="42.60" y="468.12" width="3.90" height="7.07" fill="#f9e0d8"/>
<rect x="46.46" y="468.12" width="3.90" height="7.07" fill="#f7cfc4"/>
<rect x="50.31" y="468.12" width="3.90" height="7.07" fill="#f9e0d8"/>
<rect x="54.17" y="468.12" width="3.90" height="7.07" fill="#f7cfc4"/>
<rect x="58.02" y="468.12" width="3.90" height="7.07" fill="#e9e2f1"/>
<rect x="73.45" y="468.12" width="3.90" height="7.07" fill="#b9b0d4"/>
<rect x="85.01" y="468.12" width="3.90" height="7.07" fill="#f9e0d8"/>
<rect x="104.29" y="468.12" width="3.90" height="7.07" fill="#f9e0d8"/>
<rect x="115.86" y="468.12" width="11.61" height="7.07" fill="#f7cfc4"/>
<rect x="127.42" y="468.12" width="7.75" height="7.07" fill="#f9e0d8"/>
<rect x="135.14" y="468.12" width="3.90" height="7.07" fill="#f7cfc4"/>
<rect x="150.56" y="468.12" width="3.90" height="7.07" fill="#f9e0d8"/>
<rect x="154.41" y="468.12" width="3.90" height="7.07" fill="#e9e2f1"/>
<rect x="169.84" y="468.12" width="3.90" height="7.07" fill="#f9e0d8"/>
<rect x="173.69" y="468.12" width="7.75" height="7.07" fill="#f7cfc4"/>
<rect x="181.40" y="468.12" width="7.75" height="7.07" fill="#f9e0d8"/>
<rect x="192.97" y="468.12" width="7.75" height="7.07" fill="#f7cfc4"/>
<rect x="200.68" y="468.12" width="7.75" height="7.07" fill="#f9e0d8"/>
<rect x="212.25" y="468.12" width="3.90" height="7.07" fill="#f9e0d8"/>
<rect x="223.82" y="468.12" width="3.90" height="7.07" fill="#f7cfc4"/>
<rect x="243.09" y="468.12" width="3.90" height="7.07" fill="#f7cfc4"/>
<rect x="250.81" y="468.12" width="3.90" height="7.07" fill="#f7cfc4"/>
<rect x="254.66" y="468.12" width="3.90" height="7.07" fill="#f9e0d8"/>
<rect x="266.23" y="468.12" width="27.03" height="7.07" fill="#f7cfc4"/>
<rect x="312.50" y="468.12" width="3.90" height="7.07" fill="#f9e0d8"/>
<rect x="331.77" y="468.12" width="19.32" height="7.07" fill="#f9e0d8"/>
<rect x="354.91" y="468.12" width="3.90" height="7.07" fill="#e9e2f1"/>
<rect x="358.76" y="468.12" width="7.75" height="7.07" fill="#d8d0e8"/>
<rect x="366.47" y="468.12" width="3.90" height="7.07" fill="#e9e2f1"/>
<rect x="378.04" y="468.12" width="3.90" height="7.07" fill="#e9e2f1"/>
<rect x="389.61" y="468.12" width="3.90" height="7.07" fill="#f9e0d8"/>
<rect x="401.18" y="468.12" width="3.90" height="7.07" fill="#f9e0d8"/>
<rect x="416.60" y="468.12" width="3.90" height="7.07" fill="#d8d0e8"/>
<rect x="420.45" y="468.12" width="3.90" height="7.07" fill="#e9e2f1"/>
<rect x="428.17" y="468.12" width="3.90" height="7.07" fill="#b9b0d4"/>
<rect x="439.73" y="468.12" width="11.61" height="7.07" fill="#d8d0e8"/>
<rect x="451.30" y="468.12" width="3.90" height="7.07" fill="#e9e2f1"/>
<rect x="455.15" y="468.12" width="7.75" height="7.07" fill="#d8d0e8"/>
<rect x="462.87" y="468.12" width="3.90" height="7.07" fill="#e9e2f1"/>
<rect x="466.72" y="468.12" width="7.75" height="7.07" fill="#d8d0e8"/>
<rect x="482.14" y="468.12" width="3.90" height="7.07" fill="#e9e2f1"/>
<rect x="42.60" y="475.15" width="3.90" height="7.07" fill="#f9e0d8"/>
<rect x="46.46" y="475.15" width="3.90" height="7.07" fill="#f7cfc4"/>
<rect x="50.31" y="475.15" width="3.90" height="7.07" fill="#f9e0d8"/>
<rect x="54.17" y="475.15" width="3.90" height="7.07" fill="#f7cfc4"/>
<rect x="61.88" y="475.15" width="3.90" height="7.07" fill="#f9e0d8"/>
<rect x="73.45" y="475.15" width="3.90" height="7.07" fill="#d8d0e8"/>
<rect x="85.01" y="475.15" width="3.90" height="7.07" fill="#f9e0d8"/>
<rect x="88.87" y="475.15" width="3.90" height="7.07" fill="#d8d0e8"/>
<rect x="104.29" y="475.15" width="7.75" height="7.07" fill="#f9e0d8"/>
<rect x="115.86" y="475.15" width="3.90" height="7.07" fill="#f7cfc4"/>
<rect x="119.71" y="475.15" width="3.90" height="7.07" fill="#f9e0d8"/>
<rect x="123.57" y="475.15" width="3.90" height="7.07" fill="#f7cfc4"/>
<rect x="127.42" y="475.15" width="7.75" height="7.07" fill="#f9e0d8"/>
<rect x="135.14" y="475.15" width="3.90" height="7.07" fill="#f7cfc4"/>
<rect x="138.99" y="475.15" width="3.90" height="7.07" fill="#f9e0d8"/>
<rect x="146.70" y="475.15" width="3.90" height="7.07" fill="#e9e2f1"/>
<rect x="158.27" y="475.15" width="3.90" height="7.07" fill="#f9e0d8"/>
<rect x="162.13" y="475.15" width="3.90" height="7.07" fill="#e9e2f1"/>
<rect x="169.84" y="475.15" width="7.75" height="7.07" fill="#f9e0d8"/>
<rect x="177.55" y="475.15" width="3.90" height="7.07" fill="#f7cfc4"/>
<rect x="181.40" y="475.15" width="7.75" height="7.07" fill="#f9e0d8"/>
<rect x="196.83" y="475.15" width="3.90" height="7.07" fill="#f7cfc4"/>
<rect x="200.68" y="475.15" width="3.90" height="7.07" fill="#f9e0d8"/>
<rect x="212.25" y="475.15" width="3.90" height="7.07" fill="#f9e0d8"/>
<rect x="223.82" y="475.15" width="3.90" height="7.07" fill="#f7cfc4"/>
<rect x="235.38" y="475.15" width="3.90" height="7.07" fill="#f9e0d8"/>
<rect x="243.09" y="475.15" width="3.90" height="7.07" fill="#f7cfc4"/>
<rect x="250.81" y="475.15" width="3.90" height="7.07" fill="#f9e0d8"/>
<rect x="266.23" y="475.15" width="19.32" height="7.07" fill="#f7cfc4"/>
<rect x="285.51" y="475.15" width="3.90" height="7.07" fill="#f9e0d8"/>
<rect x="289.36" y="475.15" width="3.90" height="7.07" fill="#f7cfc4"/>
<rect x="331.77" y="475.15" width="11.61" height="7.07" fill="#f9e0d8"/>
<rect x="354.91" y="475.15" width="3.90" height="7.07" fill="#e9e2f1"/>
<rect x="358.76" y="475.15" width="3.90" height="7.07" fill="#d8d0e8"/>
<rect x="362.62" y="475.15" width="3.90" height="7.07" fill="#b9b0d4"/>
<rect x="366.47" y="475.15" width="3.90" height="7.07" fill="#e9e2f1"/>
<rect x="374.19" y="475.15" width="3.90" height="7.07" fill="#e9e2f1"/>
<rect x="385.75" y="475.15" width="3.90" height="7.07" fill="#e9e2f1"/>
<rect x="393.46" y="475.15" width="3.90" height="7.07" fill="#e9e2f1"/>
<rect x="412.74" y="475.15" width="3.90" height="7.07" fill="#b9b0d4"/>
<rect x="416.60" y="475.15" width="3.90" height="7.07" fill="#e9e2f1"/>
<rect x="428.17" y="475.15" width="7.75" height="7.07" fill="#d8d0e8"/>
<rect x="447.44" y="475.15" width="3.90" height="7.07" fill="#b9b0d4"/>
<rect x="462.87" y="475.15" width="3.90" height="7.07" fill="#e9e2f1"/>
<rect x="470.58" y="475.15" width="3.90" height="7.07" fill="#e9e2f1"/>
<rect x="478.29" y="475.15" width="7.75" height="7.07" fill="#e9e2f1"/>
<rect x="42.60" y="482.18" width="3.90" height="7.07" fill="#e9e2f1"/>
<rect x="46.46" y="482.18" width="3.90" height="7.07" fill="#f9e0d8"/>
<rect x="50.31" y="482.18" width="3.90" height="7.07" fill="#d8d0e8"/>
<rect x="54.17" y="482.18" width="3.90" height="7.07" fill="#f7cfc4"/>
<rect x="58.02" y="482.18" width="3.90" height="7.07" fill="#e9e2f1"/>
<rect x="73.45" y="482.18" width="3.90" height="7.07" fill="#b9b0d4"/>
<rect x="85.01" y="482.18" width="3.90" height="7.07" fill="#f9e0d8"/>
<rect x="88.87" y="482.18" width="3.90" height="7.07" fill="#e9e2f1"/>
<rect x="92.72" y="482.18" width="3.90" height="7.07" fill="#f9e0d8"/>
<rect x="96.58" y="482.18" width="3.90" height="7.07" fill="#e9e2f1"/>
<rect x="104.29" y="482.18" width="3.90" height="7.07" fill="#f9e0d8"/>
<rect x="108.15" y="482.18" width="3.90" height="7.07" fill="#f3b2a2"/>
<rect x="112.00" y="482.18" width="7.75" height="7.07" fill="#f9e0d8"/>
<rect x="123.57" y="482.18" width="3.90" height="7.07" fill="#f9e0d8"/>
<rect x="131.28" y="482.18" width="3.90" height="7.07" fill="#f9e0d8"/>
<rect x="142.85" y="482.18" width="3.90" height="7.07" fill="#f7cfc4"/>
<rect x="146.70" y="482.18" width="11.61" height="7.07" fill="#f3b2a2"/>
<rect x="158.27" y="482.18" width="3.90" height="7.07" fill="#f7cfc4"/>
<rect x="173.69" y="482.18" width="7.75" height="7.07" fill="#f9e0d8"/>
<rect x="181.40" y="482.18" width="3.90" height="7.07" fill="#f7cfc4"/>
<rect x="185.26" y="482.18" width="3.90" height="7.07" fill="#f9e0d8"/>
<rect x="192.97" y="482.18" width="3.90" height="7.07" fill="#e9e2f1"/>
<rect x="204.54" y="482.18" width="3.90" height="7.07" fill="#d8d0e8"/>
<rect x="216.10" y="482.18" width="3.90" height="7.07" fill="#f9e0d8"/>
<rect x="223.82" y="482.18" width="3.90" height="7.07" fill="#f9e0d8"/>
<rect x="235.38" y="482.18" width="3.90" height="7.07" fill="#e9e2f1"/>
<rect x="243.09" y="482.18" width="3.90" height="7.07" fill="#f9e0d8"/>
<rect x="258.52" y="482.18" width="7.75" height="7.07" fill="#e9e2f1"/>
<rect x="266.23" y="482.18" width="7.75" height="7.07" fill="#f9e0d8"/>
<rect x="273.94" y="482.18" width="3.90" height="7.07" fill="#b9b0d4"/>
<rect x="277.79" y="482.18" width="3.90" height="7.07" fill="#f7cfc4"/>
<rect x="281.65" y="482.18" width="3.90" height="7.07" fill="#e9e2f1"/>
<rect x="312.50" y="482.18" width="7.75" height="7.07" fill="#b9b0d4"/>
<rect x="320.21" y="482.18" width="3.90" height="7.07" fill="#d8d0e8"/>
<rect x="324.06" y="482.18" width="3.90" height="7.07" fill="#b9b0d4"/>
<rect x="331.77" y="482.18" width="3.90" height="7.07" fill="#f9e0d8"/>
<rect x="335.63" y="482.18" width="3.90" height="7.07" fill="#e9e2f1"/>
<rect x="339.49" y="482.18" width="3.90" height="7.07" fill="#f9e0d8"/>
<rect x="351.05" y="482.18" width="3.90" height="7.07" fill="#b9b0d4"/>
<rect x="358.76" y="482.18" width="23.17" height="7.07" fill="#d8d0e8"/>
<rect x="381.90" y="482.18" width="3.90" height="7.07" fill="#e9e2f1"/>
<rect x="393.46" y="482.18" width="3.90" height="7.07" fill="#b9b0d4"/>
<rect x="397.32" y="482.18" width="3.90" height="7.07" fill="#d8d0e8"/>
<rect x="405.03" y="482.18" width="7.75" height="7.07" fill="#e9e2f1"/>
<rect x="412.74" y="482.18" width="3.90" height="7.07" fill="#d8d0e8"/>
<rect x="420.45" y="482.18" width="3.90" height="7.07" fill="#d8d0e8"/>
<rect x="428.17" y="482.18" width="3.90" height="7.07" fill="#e9e2f1"/>
<rect x="439.73" y="482.18" width="3.90" height="7.07" fill="#e9e2f1"/>
<rect x="443.59" y="482.18" width="7.75" height="7.07" fill="#d8d0e8"/>
<rect x="451.30" y="482.18" width="3.90" height="7.07" fill="#e9e2f1"/>
<rect x="455.15" y="482.18" width="3.90" height="7.07" fill="#d8d0e8"/>
<rect x="462.87" y="482.18" width="3.90" height="7.07" fill="#e9e2f1"/>
<rect x="466.72" y="482.18" width="3.90" height="7.07" fill="#d8d0e8"/>
<rect x="470.58" y="482.18" width="3.90" height="7.07" fill="#e9e2f1"/>
<rect x="474.43" y="482.18" width="11.61" height="7.07" fill="#d8d0e8"/>
<rect x="42.60" y="489.21" width="3.90" height="7.07" fill="#f9e0d8"/>
<rect x="46.46" y="489.21" width="3.90" height="7.07" fill="#f7cfc4"/>
<rect x="50.31" y="489.21" width="3.90" height="7.07" fill="#f9e0d8"/>
<rect x="54.17" y="489.21" width="3.90" height="7.07" fill="#f7cfc4"/>
<rect x="61.88" y="489.21" width="3.90" height="7.07" fill="#f9e0d8"/>
<rect x="73.45" y="489.21" width="3.90" height="7.07" fill="#e9e2f1"/>
<rect x="85.01" y="489.21" width="3.90" height="7.07" fill="#f7cfc4"/>
<rect x="88.87" y="489.21" width="3.90" height="7.07" fill="#d8d0e8"/>
<rect x="104.29" y="489.21" width="3.90" height="7.07" fill="#f7cfc4"/>
<rect x="112.00" y="489.21" width="3.90" height="7.07" fill="#e9e2f1"/>
<rect x="115.86" y="489.21" width="19.32" height="7.07" fill="#f7cfc4"/>
<rect x="135.14" y="489.21" width="11.61" height="7.07" fill="#f9e0d8"/>
<rect x="150.56" y="489.21" width="11.61" height="7.07" fill="#f9e0d8"/>
<rect x="162.13" y="489.21" width="3.90" height="7.07" fill="#e9e2f1"/>
<rect x="169.84" y="489.21" width="19.32" height="7.07" fill="#f9e0d8"/>
<rect x="196.83" y="489.21" width="3.90" height="7.07" fill="#f7cfc4"/>
<rect x="223.82" y="489.21" width="3.90" height="7.07" fill="#f7cfc4"/>
<rect x="231.53" y="489.21" width="3.90" height="7.07" fill="#e9e2f1"/>
<rect x="239.24" y="489.21" width="3.90" height="7.07" fill="#f9e0d8"/>
<rect x="243.09" y="489.21" width="3.90" height="7.07" fill="#f7cfc4"/>
<rect x="266.23" y="489.21" width="7.75" height="7.07" fill="#f7cfc4"/>
<rect x="273.94" y="489.21" width="15.46" height="7.07" fill="#f9e0d8"/>
<rect x="289.36" y="489.21" width="3.90" height="7.07" fill="#f7cfc4"/>
<rect x="304.78" y="489.21" width="3.90" height="7.07" fill="#f9e0d8"/>
<rect x="316.35" y="489.21" width="3.90" height="7.07" fill="#b9b0d4"/>
<rect x="331.77" y="489.21" width="7.75" height="7.07" fill="#f7cfc4"/>
<rect x="347.20" y="489.21" width="3.90" height="7.07" fill="#f7cfc4"/>
<rect x="358.76" y="489.21" width="3.90" height="7.07" fill="#b9b0d4"/>
<rect x="366.47" y="489.21" width="3.90" height="7.07" fill="#d8d0e8"/>
<rect x="378.04" y="489.21" width="7.75" height="7.07" fill="#e9e2f1"/>
<rect x="393.46" y="489.21" width="3.90" height="7.07" fill="#e9e2f1"/>
<rect x="397.32" y="489.21" width="7.75" height="7.07" fill="#d8d0e8"/>
<rect x="405.03" y="489.21" width="3.90" height="7.07" fill="#e9e2f1"/>
<rect x="412.74" y="489.21" width="3.90" height="7.07" fill="#e9e2f1"/>
<rect x="424.31" y="489.21" width="3.90" height="7.07" fill="#e9e2f1"/>
<rect x="428.17" y="489.21" width="3.90" height="7.07" fill="#b9b0d4"/>
<rect x="439.73" y="489.21" width="7.75" height="7.07" fill="#d8d0e8"/>
<rect x="447.44" y="489.21" width="3.90" height="7.07" fill="#e9e2f1"/>
<rect x="451.30" y="489.21" width="23.17" height="7.07" fill="#d8d0e8"/>
<rect x="478.29" y="489.21" width="3.90" height="7.07" fill="#e9e2f1"/>
<rect x="482.14" y="489.21" width="3.90" height="7.07" fill="#d8d0e8"/>
<rect x="42.60" y="496.23" width="3.90" height="7.07" fill="#f9e0d8"/>
<rect x="46.46" y="496.23" width="11.61" height="7.07" fill="#f7cfc4"/>
<rect x="61.88" y="496.23" width="3.90" height="7.07" fill="#f9e0d8"/>
<rect x="73.45" y="496.23" width="3.90" height="7.07" fill="#4d4592"/>
<rect x="81.16" y="496.23" width="3.90" height="7.07" fill="#f9e0d8"/>
<rect x="85.01" y="496.23" width="3.90" height="7.07" fill="#f7cfc4"/>
<rect x="88.87" y="496.23" width="3.90" height="7.07" fill="#e9e2f1"/>
<rect x="96.58" y="496.23" width="3.90" height="7.07" fill="#e9e2f1"/>
<rect x="104.29" y="496.23" width="3.90" height="7.07" fill="#f7cfc4"/>
<rect x="115.86" y="496.23" width="3.90" height="7.07" fill="#f9e0d8"/>
<rect x="119.71" y="496.23" width="3.90" height="7.07" fill="#f7cfc4"/>
<rect x="123.57" y="496.23" width="3.90" height="7.07" fill="#f9e0d8"/>
<rect x="127.42" y="496.23" width="7.75" height="7.07" fill="#f7cfc4"/>
<rect x="135.14" y="496.23" width="3.90" height="7.07" fill="#f9e0d8"/>
<rect x="146.70" y="496.23" width="3.90" height="7.07" fill="#f9e0d8"/>
<rect x="158.27" y="496.23" width="3.90" height="7.07" fill="#f9e0d8"/>
<rect x="173.69" y="496.23" width="3.90" height="7.07" fill="#f9e0d8"/>
<rect x="177.55" y="496.23" width="3.90" height="7.07" fill="#f7cfc4"/>
<rect x="181.40" y="496.23" width="7.75" height="7.07" fill="#f9e0d8"/>
<rect x="192.97" y="496.23" width="19.32" height="7.07" fill="#f7cfc4"/>
<rect x="212.25" y="496.23" width="7.75" height="7.07" fill="#f9e0d8"/>
<rect x="223.82" y="496.23" width="3.90" height="7.07" fill="#f7cfc4"/>
<rect x="235.38" y="496.23" width="3.90" height="7.07" fill="#f9e0d8"/>
<rect x="243.09" y="496.23" width="3.90" height="7.07" fill="#f7cfc4"/>
<rect x="266.23" y="496.23" width="27.03" height="7.07" fill="#f7cfc4"/>
<rect x="300.93" y="496.23" width="3.90" height="7.07" fill="#e9e2f1"/>
<rect x="308.64" y="496.23" width="3.90" height="7.07" fill="#f9e0d8"/>
<rect x="324.06" y="496.23" width="3.90" height="7.07" fill="#e9e2f1"/>
<rect x="331.77" y="496.23" width="3.90" height="7.07" fill="#f7cfc4"/>
<rect x="335.63" y="496.23" width="3.90" height="7.07" fill="#f9e0d8"/>
<rect x="347.20" y="496.23" width="3.90" height="7.07" fill="#f7cfc4"/>
<rect x="351.05" y="496.23" width="3.90" height="7.07" fill="#f9e0d8"/>
<rect x="358.76" y="496.23" width="3.90" height="7.07" fill="#e9e2f1"/>
<rect x="397.32" y="496.23" width="3.90" height="7.07" fill="#f9e0d8"/>
<rect x="405.03" y="496.23" width="3.90" height="7.07" fill="#f9e0d8"/>
<rect x="428.17" y="496.23" width="11.61" height="7.07" fill="#f9e0d8"/>
<rect x="447.44" y="496.23" width="3.90" height="7.07" fill="#4d4592"/>
<rect x="451.30" y="496.23" width="3.90" height="7.07" fill="#d8d0e8"/>
<rect x="459.01" y="496.23" width="3.90" height="7.07" fill="#f9e0d8"/>
<rect x="466.72" y="496.23" width="3.90" height="7.07" fill="#d8d0e8"/>
<rect x="470.58" y="496.23" width="3.90" height="7.07" fill="#e9e2f1"/>
<rect x="478.29" y="496.23" width="3.90" height="7.07" fill="#e9e2f1"/>
<rect x="46.46" y="503.26" width="3.90" height="7.07" fill="#f7cfc4"/>
<rect x="50.31" y="503.26" width="3.90" height="7.07" fill="#f9e0d8"/>
<rect x="58.02" y="503.26" width="3.90" height="7.07" fill="#d8d0e8"/>
<rect x="73.45" y="503.26" width="3.90" height="7.07" fill="#b9b0d4"/>
<rect x="81.16" y="503.26" width="3.90" height="7.07" fill="#e9e2f1"/>
<rect x="85.01" y="503.26" width="3.90" height="7.07" fill="#f9e0d8"/>
<rect x="88.87" y="503.26" width="7.75" height="7.07" fill="#e9e2f1"/>
<rect x="104.29" y="503.26" width="3.90" height="7.07" fill="#f9e0d8"/>
<rect x="112.00" y="503.26" width="3.90" height="7.07" fill="#d8d0e8"/>
<rect x="119.71" y="503.26" width="7.75" height="7.07" fill="#f9e0d8"/>
<rect x="142.85" y="503.26" width="3.90" height="7.07" fill="#b9b0d4"/>
<rect x="154.41" y="503.26" width="3.90" height="7.07" fill="#8f88b8"/>
<rect x="162.13" y="503.26" width="3.90" height="7.07" fill="#8f88b8"/>
<rect x="173.69" y="503.26" width="15.46" height="7.07" fill="#f9e0d8"/>
<rect x="196.83" y="503.26" width="3.90" height="7.07" fill="#e9e2f1"/>
<rect x="212.25" y="503.26" width="3.90" height="7.07" fill="#b9b0d4"/>
<rect x="223.82" y="503.26" width="3.90" height="7.07" fill="#f7cfc4"/>
<rect x="235.38" y="503.26" width="3.90" height="7.07" fill="#e9e2f1"/>
<rect x="243.09" y="503.26" width="3.90" height="7.07" fill="#f9e0d8"/>
<rect x="258.52" y="503.26" width="7.75" height="7.07" fill="#e9e2f1"/>
<rect x="266.23" y="503.26" width="7.75" height="7.07" fill="#f7cfc4"/>
<rect x="273.94" y="503.26" width="7.75" height="7.07" fill="#f9e0d8"/>
<rect x="285.51" y="503.26" width="3.90" height="7.07" fill="#f9e0d8"/>
<rect x="289.36" y="503.26" width="3.90" height="7.07" fill="#f7cfc4"/>
<rect x="316.35" y="503.26" width="7.75" height="7.07" fill="#d8d0e8"/>
<rect x="331.77" y="503.26" width="7.75" height="7.07" fill="#f9e0d8"/>
<rect x="343.34" y="503.26" width="3.90" height="7.07" fill="#d8d0e8"/>
<rect x="354.91" y="503.26" width="3.90" height="7.07" fill="#e9e2f1"/>
<rect x="358.76" y="503.26" width="3.90" height="7.07" fill="#b9b0d4"/>
<rect x="362.62" y="503.26" width="3.90" height="7.07" fill="#d8d0e8"/>
<rect x="366.47" y="503.26" width="3.90" height="7.07" fill="#e9e2f1"/>
<rect x="374.19" y="503.26" width="15.46" height="7.07" fill="#d8d0e8"/>
<rect x="389.61" y="503.26" width="3.90" height="7.07" fill="#e9e2f1"/>
<rect x="393.46" y="503.26" width="3.90" height="7.07" fill="#d8d0e8"/>
<rect x="397.32" y="503.26" width="3.90" height="7.07" fill="#e9e2f1"/>
<rect x="405.03" y="503.26" width="3.90" height="7.07" fill="#b9b0d4"/>
<rect x="408.89" y="503.26" width="3.90" height="7.07" fill="#e9e2f1"/>
<rect x="412.74" y="503.26" width="7.75" height="7.07" fill="#d8d0e8"/>
<rect x="420.45" y="503.26" width="3.90" height="7.07" fill="#b9b0d4"/>
<rect x="424.31" y="503.26" width="19.32" height="7.07" fill="#d8d0e8"/>
<rect x="443.59" y="503.26" width="3.90" height="7.07" fill="#e9e2f1"/>
<rect x="447.44" y="503.26" width="3.90" height="7.07" fill="#d8d0e8"/>
<rect x="451.30" y="503.26" width="3.90" height="7.07" fill="#e9e2f1"/>
<rect x="459.01" y="503.26" width="15.46" height="7.07" fill="#d8d0e8"/>
<rect x="474.43" y="503.26" width="3.90" height="7.07" fill="#e9e2f1"/>
<rect x="478.29" y="503.26" width="3.90" height="7.07" fill="#d8d0e8"/>
<rect x="482.14" y="503.26" width="3.90" height="7.07" fill="#e9e2f1"/>
<rect x="46.46" y="510.29" width="3.90" height="7.07" fill="#f9e0d8"/>
<rect x="50.31" y="510.29" width="7.75" height="7.07" fill="#f7cfc4"/>
<rect x="73.45" y="510.29" width="3.90" height="7.07" fill="#e9e2f1"/>
<rect x="81.16" y="510.29" width="3.90" height="7.07" fill="#f7cfc4"/>
<rect x="85.01" y="510.29" width="3.90" height="7.07" fill="#f9e0d8"/>
<rect x="88.87" y="510.29" width="3.90" height="7.07" fill="#e9e2f1"/>
<rect x="104.29" y="510.29" width="3.90" height="7.07" fill="#f9e0d8"/>
<rect x="112.00" y="510.29" width="3.90" height="7.07" fill="#d8d0e8"/>
<rect x="115.86" y="510.29" width="11.61" height="7.07" fill="#f7cfc4"/>
<rect x="127.42" y="510.29" width="11.61" height="7.07" fill="#f9e0d8"/>
<rect x="138.99" y="510.29" width="3.90" height="7.07" fill="#f7cfc4"/>
<rect x="142.85" y="510.29" width="3.90" height="7.07" fill="#f9e0d8"/>
<rect x="162.13" y="510.29" width="3.90" height="7.07" fill="#e9e2f1"/>
<rect x="173.69" y="510.29" width="15.46" height="7.07" fill="#f9e0d8"/>
<rect x="196.83" y="510.29" width="7.75" height="7.07" fill="#f7cfc4"/>
<rect x="204.54" y="510.29" width="3.90" height="7.07" fill="#f9e0d8"/>
<rect x="212.25" y="510.29" width="3.90" height="7.07" fill="#b9b0d4"/>
<rect x="223.82" y="510.29" width="3.90" height="7.07" fill="#f7cfc4"/>
<rect x="239.24" y="510.29" width="3.90" height="7.07" fill="#f9e0d8"/>
<rect x="243.09" y="510.29" width="3.90" height="7.07" fill="#f7cfc4"/>
<rect x="266.23" y="510.29" width="7.75" height="7.07" fill="#f9e0d8"/>
<rect x="273.94" y="510.29" width="7.75" height="7.07" fill="#f7cfc4"/>
<rect x="281.65" y="510.29" width="11.61" height="7.07" fill="#f9e0d8"/>
<rect x="308.64" y="510.29" width="3.90" height="7.07" fill="#f7cfc4"/>
<rect x="320.21" y="510.29" width="3.90" height="7.07" fill="#d8d0e8"/>
<rect x="324.06" y="510.29" width="3.90" height="7.07" fill="#8f88b8"/>
<rect x="331.77" y="510.29" width="7.75" height="7.07" fill="#f9e0d8"/>
<rect x="339.49" y="510.29" width="3.90" height="7.07" fill="#f7cfc4"/>
<rect x="351.05" y="510.29" width="3.90" height="7.07" fill="#f7cfc4"/>
<rect x="358.76" y="510.29" width="7.75" height="7.07" fill="#b9b0d4"/>
<rect x="370.33" y="510.29" width="11.61" height="7.07" fill="#e9e2f1"/>
<rect x="385.75" y="510.29" width="3.90" height="7.07" fill="#d8d0e8"/>
<rect x="397.32" y="510.29" width="3.90" height="7.07" fill="#e9e2f1"/>
<rect x="412.74" y="510.29" width="3.90" height="7.07" fill="#d8d0e8"/>
<rect x="420.45" y="510.29" width="3.90" height="7.07" fill="#d8d0e8"/>
<rect x="428.17" y="510.29" width="3.90" height="7.07" fill="#d8d0e8"/>
<rect x="439.73" y="510.29" width="7.75" height="7.07" fill="#d8d0e8"/>
<rect x="447.44" y="510.29" width="3.90" height="7.07" fill="#b9b0d4"/>
<rect x="455.15" y="510.29" width="3.90" height="7.07" fill="#d8d0e8"/>
<rect x="466.72" y="510.29" width="3.90" height="7.07" fill="#e9e2f1"/>
<rect x="470.58" y="510.29" width="3.90" height="7.07" fill="#d8d0e8"/>
<rect x="46.46" y="517.31" width="3.90" height="7.07" fill="#f7cfc4"/>
<rect x="50.31" y="517.31" width="3.90" height="7.07" fill="#f9e0d8"/>
<rect x="54.17" y="517.31" width="3.90" height="7.07" fill="#f7cfc4"/>
<rect x="61.88" y="517.31" width="3.90" height="7.07" fill="#f9e0d8"/>
<rect x="73.45" y="517.31" width="3.90" height="7.07" fill="#d8d0e8"/>
<rect x="85.01" y="517.31" width="3.90" height="7.07" fill="#f9e0d8"/>
<rect x="88.87" y="517.31" width="3.90" height="7.07" fill="#e9e2f1"/>
<rect x="96.58" y="517.31" width="3.90" height="7.07" fill="#b9b0d4"/>
<rect x="104.29" y="517.31" width="3.90" height="7.07" fill="#f9e0d8"/>
<rect x="115.86" y="517.31" width="3.90" height="7.07" fill="#f9e0d8"/>
<rect x="119.71" y="517.31" width="7.75" height="7.07" fill="#f7cfc4"/>
<rect x="127.42" y="517.31" width="3.90" height="7.07" fill="#f9e0d8"/>
<rect x="131.28" y="517.31" width="3.90" height="7.07" fill="#f7cfc4"/>
<rect x="135.14" y="517.31" width="7.75" height="7.07" fill="#f9e0d8"/>
<rect x="154.41" y="517.31" width="3.90" height="7.07" fill="#8f88b8"/>
<rect x="162.13" y="517.31" width="3.90" height="7.07" fill="#8f88b8"/>
<rect x="173.69" y="517.31" width="15.46" height="7.07" fill="#f9e0d8"/>
<rect x="192.97" y="517.31" width="3.90" height="7.07" fill="#f9e0d8"/>
<rect x="196.83" y="517.31" width="3.90" height="7.07" fill="#f7cfc4"/>
<rect x="200.68" y="517.31" width="3.90" height="7.07" fill="#f9e0d8"/>
<rect x="223.82" y="517.31" width="3.90" height="7.07" fill="#f7cfc4"/>
<rect x="239.24" y="517.31" width="3.90" height="7.07" fill="#f9e0d8"/>
<rect x="243.09" y="517.31" width="3.90" height="7.07" fill="#f7cfc4"/>
<rect x="266.23" y="517.31" width="19.32" height="7.07" fill="#f7cfc4"/>
<rect x="285.51" y="517.31" width="7.75" height="7.07" fill="#f9e0d8"/>
<rect x="304.78" y="517.31" width="3.90" height="7.07" fill="#f9e0d8"/>
<rect x="331.77" y="517.31" width="3.90" height="7.07" fill="#f9e0d8"/>
<rect x="335.63" y="517.31" width="3.90" height="7.07" fill="#f7cfc4"/>
<rect x="339.49" y="517.31" width="3.90" height="7.07" fill="#f9e0d8"/>
<rect x="343.34" y="517.31" width="3.90" height="7.07" fill="#d8d0e8"/>
<rect x="347.20" y="517.31" width="3.90" height="7.07" fill="#e9e2f1"/>
<rect x="358.76" y="517.31" width="3.90" height="7.07" fill="#e9e2f1"/>
<rect x="378.04" y="517.31" width="7.75" height="7.07" fill="#d8d0e8"/>
<rect x="385.75" y="517.31" width="3.90" height="7.07" fill="#e9e2f1"/>
<rect x="389.61" y="517.31" width="3.90" height="7.07" fill="#d8d0e8"/>
<rect x="405.03" y="517.31" width="3.90" height="7.07" fill="#d8d0e8"/>
<rect x="412.74" y="517.31" width="11.61" height="7.07" fill="#d8d0e8"/>
<rect x="439.73" y="517.31" width="3.90" height="7.07" fill="#d8d0e8"/>
<rect x="443.59" y="517.31" width="3.90" height="7.07" fill="#e9e2f1"/>
<rect x="447.44" y="517.31" width="3.90" height="7.07" fill="#b9b0d4"/>
<rect x="455.15" y="517.31" width="3.90" height="7.07" fill="#d8d0e8"/>
<rect x="459.01" y="517.31" width="3.90" height="7.07" fill="#e9e2f1"/>
<rect x="462.87" y="517.31" width="3.90" height="7.07" fill="#d8d0e8"/>
<rect x="482.14" y="517.31" width="3.90" height="7.07" fill="#e9e2f1"/>
<rect x="42.60" y="524.34" width="3.90" height="7.07" fill="#f9e0d8"/>
<rect x="46.46" y="524.34" width="3.90" height="7.07" fill="#f7cfc4"/>
<rect x="50.31" y="524.34" width="3.90" height="7.07" fill="#f9e0d8"/>
<rect x="54.17" y="524.34" width="3.90" height="7.07" fill="#f7cfc4"/>
<rect x="61.88" y="524.34" width="3.90" height="7.07" fill="#f9e0d8"/>
<rect x="73.45" y="524.34" width="3.90" height="7.07" fill="#e9e2f1"/>
<rect x="85.01" y="524.34" width="3.90" height="7.07" fill="#f9e0d8"/>
<rect x="104.29" y="524.34" width="3.90" height="7.07" fill="#f7cfc4"/>
<rect x="112.00" y="524.34" width="7.75" height="7.07" fill="#e9e2f1"/>
<rect x="119.71" y="524.34" width="3.90" height="7.07" fill="#f9e0d8"/>
<rect x="127.42" y="524.34" width="7.75" height="7.07" fill="#f9e0d8"/>
<rect x="173.69" y="524.34" width="15.46" height="7.07" fill="#f9e0d8"/>
<rect x="192.97" y="524.34" width="3.90" height="7.07" fill="#f9e0d8"/>
<rect x="196.83" y="524.34" width="3.90" height="7.07" fill="#f7cfc4"/>
<rect x="200.68" y="524.34" width="3.90" height="7.07" fill="#f9e0d8"/>
<rect x="212.25" y="524.34" width="3.90" height="7.07" fill="#e9e2f1"/>
<rect x="223.82" y="524.34" width="3.90" height="7.07" fill="#f7cfc4"/>
<rect x="239.24" y="524.34" width="3.90" height="7.07" fill="#f9e0d8"/>
<rect x="243.09" y="524.34" width="3.90" height="7.07" fill="#f7cfc4"/>
<rect x="266.23" y="524.34" width="3.90" height="7.07" fill="#f9e0d8"/>
<rect x="270.08" y="524.34" width="3.90" height="7.07" fill="#f7cfc4"/>
<rect x="273.94" y="524.34" width="3.90" height="7.07" fill="#f9e0d8"/>
<rect x="285.51" y="524.34" width="7.75" height="7.07" fill="#f9e0d8"/>
<rect x="324.06" y="524.34" width="3.90" height="7.07" fill="#e9e2f1"/>
<rect x="331.77" y="524.34" width="3.90" height="7.07" fill="#f9e0d8"/>
<rect x="335.63" y="524.34" width="3.90" height="7.07" fill="#f7cfc4"/>
<rect x="347.20" y="524.34" width="3.90" height="7.07" fill="#f7cfc4"/>
<rect x="358.76" y="524.34" width="3.90" height="7.07" fill="#b9b0d4"/>
<rect x="378.04" y="524.34" width="3.90" height="7.07" fill="#f9e0d8"/>
<rect x="412.74" y="524.34" width="7.75" height="7.07" fill="#b9b0d4"/>
<rect x="443.59" y="524.34" width="7.75" height="7.07" fill="#e9e2f1"/>
<rect x="451.30" y="524.34" width="3.90" height="7.07" fill="#b9b0d4"/>
<rect x="462.87" y="524.34" width="3.90" height="7.07" fill="#e9e2f1"/>
<rect x="470.58" y="524.34" width="3.90" height="7.07" fill="#e9e2f1"/>
<rect x="42.60" y="531.37" width="3.90" height="7.07" fill="#f9e0d8"/>
<rect x="46.46" y="531.37" width="11.61" height="7.07" fill="#f7cfc4"/>
<rect x="61.88" y="531.37" width="3.90" height="7.07" fill="#f9e0d8"/>
<rect x="73.45" y="531.37" width="3.90" height="7.07" fill="#b9b0d4"/>
<rect x="85.01" y="531.37" width="3.90" height="7.07" fill="#f9e0d8"/>
<rect x="88.87" y="531.37" width="3.90" height="7.07" fill="#d8d0e8"/>
<rect x="104.29" y="531.37" width="3.90" height="7.07" fill="#f9e0d8"/>
<rect x="108.15" y="531.37" width="3.90" height="7.07" fill="#f3b2a2"/>
<rect x="123.57" y="531.37" width="3.90" height="7.07" fill="#f9e0d8"/>
<rect x="131.28" y="531.37" width="3.90" height="7.07" fill="#f7cfc4"/>
<rect x="138.99" y="531.37" width="3.90" height="7.07" fill="#f9e0d8"/>
<rect x="150.56" y="531.37" width="3.90" height="7.07" fill="#f3b2a2"/>
<rect x="162.13" y="531.37" width="3.90" height="7.07" fill="#b9b0d4"/>
<rect x="165.98" y="531.37" width="3.90" height="7.07" fill="#d8d0e8"/>
<rect x="177.55" y="531.37" width="3.90" height="7.07" fill="#f9e0d8"/>
<rect x="189.11" y="531.37" width="3.90" height="7.07" fill="#e9e2f1"/>
<rect x="196.83" y="531.37" width="3.90" height="7.07" fill="#f9e0d8"/>
<rect x="212.25" y="531.37" width="3.90" height="7.07" fill="#f9e0d8"/>
<rect x="223.82" y="531.37" width="3.90" height="7.07" fill="#f7cfc4"/>
<rect x="231.53" y="531.37" width="3.90" height="7.07" fill="#e9e2f1"/>
<rect x="243.09" y="531.37" width="3.90" height="7.07" fill="#f9e0d8"/>
<rect x="258.52" y="531.37" width="3.90" height="7.07" fill="#d8d0e8"/>
<rect x="262.37" y="531.37" width="3.90" height="7.07" fill="#b9b0d4"/>
<rect x="266.23" y="531.37" width="15.46" height="7.07" fill="#f7cfc4"/>
<rect x="289.36" y="531.37" width="3.90" height="7.07" fill="#f9e0d8"/>
<rect x="297.07" y="531.37" width="3.90" height="7.07" fill="#e9e2f1"/>
<rect x="300.93" y="531.37" width="3.90" height="7.07" fill="#d8d0e8"/>
<rect x="312.50" y="531.37" width="7.75" height="7.07" fill="#d8d0e8"/>
<rect x="324.06" y="531.37" width="3.90" height="7.07" fill="#b9b0d4"/>
<rect x="331.77" y="531.37" width="3.90" height="7.07" fill="#f9e0d8"/>
<rect x="335.63" y="531.37" width="3.90" height="7.07" fill="#f7cfc4"/>
<rect x="347.20" y="531.37" width="3.90" height="7.07" fill="#f9e0d8"/>
<rect x="358.76" y="531.37" width="3.90" height="7.07" fill="#d8d0e8"/>
<rect x="362.62" y="531.37" width="3.90" height="7.07" fill="#e9e2f1"/>
<rect x="366.47" y="531.37" width="3.90" height="7.07" fill="#b9b0d4"/>
<rect x="378.04" y="531.37" width="7.75" height="7.07" fill="#b9b0d4"/>
<rect x="385.75" y="531.37" width="3.90" height="7.07" fill="#d8d0e8"/>
<rect x="401.18" y="531.37" width="3.90" height="7.07" fill="#b9b0d4"/>
<rect x="408.89" y="531.37" width="11.61" height="7.07" fill="#d8d0e8"/>
<rect x="424.31" y="531.37" width="7.75" height="7.07" fill="#d8d0e8"/>
<rect x="435.88" y="531.37" width="3.90" height="7.07" fill="#f9e0d8"/>
<rect x="439.73" y="531.37" width="7.75" height="7.07" fill="#d8d0e8"/>
<rect x="451.30" y="531.37" width="3.90" height="7.07" fill="#e9e2f1"/>
<rect x="455.15" y="531.37" width="3.90" height="7.07" fill="#d8d0e8"/>
<rect x="462.87" y="531.37" width="7.75" height="7.07" fill="#d8d0e8"/>
<rect x="470.58" y="531.37" width="3.90" height="7.07" fill="#b9b0d4"/>
<rect x="474.43" y="531.37" width="3.90" height="7.07" fill="#d8d0e8"/>
<rect x="478.29" y="531.37" width="3.90" height="7.07" fill="#e9e2f1"/>
<rect x="42.60" y="538.39" width="3.90" height="7.07" fill="#f9e0d8"/>
<rect x="46.46" y="538.39" width="11.61" height="7.07" fill="#f7cfc4"/>
<rect x="61.88" y="538.39" width="3.90" height="7.07" fill="#f9e0d8"/>
<rect x="73.45" y="538.39" width="3.90" height="7.07" fill="#4d4592"/>
<rect x="85.01" y="538.39" width="3.90" height="7.07" fill="#f9e0d8"/>
<rect x="88.87" y="538.39" width="3.90" height="7.07" fill="#b9b0d4"/>
<rect x="96.58" y="538.39" width="3.90" height="7.07" fill="#e9e2f1"/>
<rect x="104.29" y="538.39" width="3.90" height="7.07" fill="#f9e0d8"/>
<rect x="115.86" y="538.39" width="11.61" height="7.07" fill="#f7cfc4"/>
<rect x="127.42" y="538.39" width="7.75" height="7.07" fill="#f9e0d8"/>
<rect x="138.99" y="538.39" width="3.90" height="7.07" fill="#f9e0d8"/>
<rect x="150.56" y="538.39" width="3.90" height="7.07" fill="#f9e0d8"/>
<rect x="162.13" y="538.39" width="3.90" height="7.07" fill="#d8d0e8"/>
<rect x="173.69" y="538.39" width="15.46" height="7.07" fill="#f9e0d8"/>
<rect x="192.97" y="538.39" width="3.90" height="7.07" fill="#f9e0d8"/>
<rect x="196.83" y="538.39" width="3.90" height="7.07" fill="#f7cfc4"/>
<rect x="200.68" y="538.39" width="3.90" height="7.07" fill="#f9e0d8"/>
<rect x="212.25" y="538.39" width="3.90" height="7.07" fill="#f9e0d8"/>
<rect x="223.82" y="538.39" width="3.90" height="7.07" fill="#f7cfc4"/>
<rect x="243.09" y="538.39" width="3.90" height="7.07" fill="#f7cfc4"/>
<rect x="266.23" y="538.39" width="19.32" height="7.07" fill="#f7cfc4"/>
<rect x="285.51" y="538.39" width="7.75" height="7.07" fill="#f9e0d8"/>
<rect x="331.77" y="538.39" width="7.75" height="7.07" fill="#f9e0d8"/>
<rect x="339.49" y="538.39" width="3.90" height="7.07" fill="#f7cfc4"/>
<rect x="347.20" y="538.39" width="3.90" height="7.07" fill="#f9e0d8"/>
<rect x="358.76" y="538.39" width="3.90" height="7.07" fill="#e9e2f1"/>
<rect x="370.33" y="538.39" width="3.90" height="7.07" fill="#f9e0d8"/>
<rect x="374.19" y="538.39" width="3.90" height="7.07" fill="#e9e2f1"/>
<rect x="389.61" y="538.39" width="3.90" height="7.07" fill="#e9e2f1"/>
<rect x="397.32" y="538.39" width="3.90" height="7.07" fill="#d8d0e8"/>
<rect x="420.45" y="538.39" width="3.90" height="7.07" fill="#b9b0d4"/>
<rect x="439.73" y="538.39" width="3.90" height="7.07" fill="#e9e2f1"/>
<rect x="447.44" y="538.39" width="7.75" height="7.07" fill="#e9e2f1"/>
<rect x="455.15" y="538.39" width="3.90" height="7.07" fill="#d8d0e8"/>
<rect x="462.87" y="538.39" width="7.75" height="7.07" fill="#e9e2f1"/>
<rect x="482.14" y="538.39" width="3.90" height="7.07" fill="#b9b0d4"/>
<rect x="42.60" y="545.42" width="3.90" height="7.07" fill="#f9e0d8"/>
<rect x="46.46" y="545.42" width="3.90" height="7.07" fill="#f7cfc4"/>
<rect x="54.17" y="545.42" width="3.90" height="7.07" fill="#f7cfc4"/>
<rect x="58.02" y="545.42" width="3.90" height="7.07" fill="#b9b0d4"/>
<rect x="61.88" y="545.42" width="3.90" height="7.07" fill="#f9e0d8"/>
<rect x="73.45" y="545.42" width="3.90" height="7.07" fill="#d8d0e8"/>
<rect x="85.01" y="545.42" width="3.90" height="7.07" fill="#f9e0d8"/>
<rect x="88.87" y="545.42" width="3.90" height="7.07" fill="#e9e2f1"/>
<rect x="104.29" y="545.42" width="3.90" height="7.07" fill="#f9e0d8"/>
<rect x="112.00" y="545.42" width="3.90" height="7.07" fill="#b9b0d4"/>
<rect x="115.86" y="545.42" width="11.61" height="7.07" fill="#f9e0d8"/>
<rect x="131.28" y="545.42" width="3.90" height="7.07" fill="#f7cfc4"/>
<rect x="135.14" y="545.42" width="3.90" height="7.07" fill="#f9e0d8"/>
<rect x="177.55" y="545.42" width="11.61" height="7.07" fill="#f9e0d8"/>
<rect x="196.83" y="545.42" width="3.90" height="7.07" fill="#b9b0d4"/>
<rect x="223.82" y="545.42" width="3.90" height="7.07" fill="#f9e0d8"/>
<rect x="231.53" y="545.42" width="3.90" height="7.07" fill="#e9e2f1"/>
<rect x="235.38" y="545.42" width="3.90" height="7.07" fill="#d8d0e8"/>
<rect x="243.09" y="545.42" width="3.90" height="7.07" fill="#f7cfc4"/>
<rect x="266.23" y="545.42" width="11.61" height="7.07" fill="#f7cfc4"/>
<rect x="277.79" y="545.42" width="15.46" height="7.07" fill="#f9e0d8"/>
<rect x="297.07" y="545.42" width="3.90" height="7.07" fill="#f9e0d8"/>
<rect x="327.92" y="545.42" width="3.90" height="7.07" fill="#e9e2f1"/>
<rect x="331.77" y="545.42" width="7.75" height="7.07" fill="#f9e0d8"/>
<rect x="343.34" y="545.42" width="3.90" height="7.07" fill="#e9e2f1"/>
<rect x="358.76" y="545.42" width="3.90" height="7.07" fill="#b9b0d4"/>
<rect x="362.62" y="545.42" width="3.90" height="7.07" fill="#e9e2f1"/>
<rect x="374.19" y="545.42" width="3.90" height="7.07" fill="#f9e0d8"/>
<rect x="381.90" y="545.42" width="7.75" height="7.07" fill="#e9e2f1"/>
<rect x="405.03" y="545.42" width="3.90" height="7.07" fill="#d8d0e8"/>
<rect x="416.60" y="545.42" width="3.90" height="7.07" fill="#d8d0e8"/>
<rect x="428.17" y="545.42" width="3.90" height="7.07" fill="#d8d0e8"/>
<rect x="455.15" y="545.42" width="3.90" height="7.07" fill="#d8d0e8"/>
<rect x="459.01" y="545.42" width="3.90" height="7.07" fill="#e9e2f1"/>
<rect x="478.29" y="545.42" width="3.90" height="7.07" fill="#f9e0d8"/>
<rect x="482.14" y="545.42" width="3.90" height="7.07" fill="#d8d0e8"/>
<rect x="42.60" y="552.45" width="3.90" height="7.07" fill="#f9e0d8"/>
<rect x="46.46" y="552.45" width="3.90" height="7.07" fill="#f7cfc4"/>
<rect x="50.31" y="552.45" width="3.90" height="7.07" fill="#f9e0d8"/>
<rect x="54.17" y="552.45" width="3.90" height="7.07" fill="#f7cfc4"/>
<rect x="61.88" y="552.45" width="3.90" height="7.07" fill="#f9e0d8"/>
<rect x="73.45" y="552.45" width="3.90" height="7.07" fill="#4d4592"/>
<rect x="85.01" y="552.45" width="3.90" height="7.07" fill="#f9e0d8"/>
<rect x="88.87" y="552.45" width="3.90" height="7.07" fill="#d8d0e8"/>
<rect x="104.29" y="552.45" width="3.90" height="7.07" fill="#f9e0d8"/>
<rect x="115.86" y="552.45" width="3.90" height="7.07" fill="#f9e0d8"/>
<rect x="119.71" y="552.45" width="3.90" height="7.07" fill="#f7cfc4"/>
<rect x="123.57" y="552.45" width="3.90" height="7.07" fill="#f9e0d8"/>
<rect x="127.42" y="552.45" width="3.90" height="7.07" fill="#f7cfc4"/>
<rect x="131.28" y="552.45" width="7.75" height="7.07" fill="#f9e0d8"/>
<rect x="169.84" y="552.45" width="7.75" height="7.07" fill="#f9e0d8"/>
<rect x="177.55" y="552.45" width="3.90" height="7.07" fill="#f7cfc4"/>
<rect x="181.40" y="552.45" width="7.75" height="7.07" fill="#f9e0d8"/>
<rect x="192.97" y="552.45" width="3.90" height="7.07" fill="#f9e0d8"/>
<rect x="196.83" y="552.45" width="7.75" height="7.07" fill="#f7cfc4"/>
<rect x="223.82" y="552.45" width="3.90" height="7.07" fill="#f9e0d8"/>
<rect x="243.09" y="552.45" width="3.90" height="7.07" fill="#f7cfc4"/>
<rect x="262.37" y="552.45" width="3.90" height="7.07" fill="#e9e2f1"/>
<rect x="266.23" y="552.45" width="19.32" height="7.07" fill="#f7cfc4"/>
<rect x="285.51" y="552.45" width="7.75" height="7.07" fill="#f9e0d8"/>
<rect x="308.64" y="552.45" width="7.75" height="7.07" fill="#f9e0d8"/>
<rect x="331.77" y="552.45" width="3.90" height="7.07" fill="#f7cfc4"/>
<rect x="335.63" y="552.45" width="3.90" height="7.07" fill="#f9e0d8"/>
<rect x="339.49" y="552.45" width="3.90" height="7.07" fill="#f7cfc4"/>
<rect x="347.20" y="552.45" width="3.90" height="7.07" fill="#f7cfc4"/>
<rect x="358.76" y="552.45" width="3.90" height="7.07" fill="#e9e2f1"/>
<rect x="366.47" y="552.45" width="3.90" height="7.07" fill="#e9e2f1"/>
<rect x="389.61" y="552.45" width="3.90" height="7.07" fill="#f9e0d8"/>
<rect x="397.32" y="552.45" width="3.90" height="7.07" fill="#e9e2f1"/>
<rect x="420.45" y="552.45" width="3.90" height="7.07" fill="#e9e2f1"/>
<rect x="428.17" y="552.45" width="3.90" height="7.07" fill="#d8d0e8"/>
<rect x="439.73" y="552.45" width="3.90" height="7.07" fill="#d8d0e8"/>
<rect x="447.44" y="552.45" width="3.90" height="7.07" fill="#d8d0e8"/>
<rect x="455.15" y="552.45" width="7.75" height="7.07" fill="#e9e2f1"/>
<rect x="462.87" y="552.45" width="7.75" height="7.07" fill="#d8d0e8"/>
<rect x="470.58" y="552.45" width="3.90" height="7.07" fill="#e9e2f1"/>
<rect x="42.60" y="559.48" width="3.90" height="7.07" fill="#f9e0d8"/>
<rect x="46.46" y="559.48" width="3.90" height="7.07" fill="#f7cfc4"/>
<rect x="50.31" y="559.48" width="3.90" height="7.07" fill="#f9e0d8"/>
<rect x="54.17" y="559.48" width="3.90" height="7.07" fill="#f7cfc4"/>
<rect x="61.88" y="559.48" width="3.90" height="7.07" fill="#f9e0d8"/>
<rect x="65.73" y="559.48" width="3.90" height="7.07" fill="#e9e2f1"/>
<rect x="73.45" y="559.48" width="3.90" height="7.07" fill="#4d4592"/>
<rect x="85.01" y="559.48" width="3.90" height="7.07" fill="#f9e0d8"/>
<rect x="88.87" y="559.48" width="3.90" height="7.07" fill="#d8d0e8"/>
<rect x="96.58" y="559.48" width="3.90" height="7.07" fill="#e9e2f1"/>
<rect x="104.29" y="559.48" width="3.90" height="7.07" fill="#f7cfc4"/>
<rect x="115.86" y="559.48" width="11.61" height="7.07" fill="#f9e0d8"/>
<rect x="131.28" y="559.48" width="3.90" height="7.07" fill="#f9e0d8"/>
<rect x="142.85" y="559.48" width="3.90" height="7.07" fill="#e9e2f1"/>
<rect x="158.27" y="559.48" width="7.75" height="7.07" fill="#e9e2f1"/>
<rect x="173.69" y="559.48" width="15.46" height="7.07" fill="#f9e0d8"/>
<rect x="196.83" y="559.48" width="3.90" height="7.07" fill="#f9e0d8"/>
<rect x="212.25" y="559.48" width="3.90" height="7.07" fill="#d8d0e8"/>
<rect x="223.82" y="559.48" width="3.90" height="7.07" fill="#f9e0d8"/>
<rect x="231.53" y="559.48" width="7.75" height="7.07" fill="#e9e2f1"/>
<rect x="243.09" y="559.48" width="3.90" height="7.07" fill="#f9e0d8"/>
<rect x="266.23" y="559.48" width="19.32" height="7.07" fill="#f7cfc4"/>
<rect x="285.51" y="559.48" width="7.75" height="7.07" fill="#f9e0d8"/>
<rect x="297.07" y="559.48" width="3.90" height="7.07" fill="#e9e2f1"/>
<rect x="324.06" y="559.48" width="3.90" height="7.07" fill="#d8d0e8"/>
<rect x="331.77" y="559.48" width="7.75" height="7.07" fill="#f9e0d8"/>
<rect x="339.49" y="559.48" width="3.90" height="7.07" fill="#f7cfc4"/>
<rect x="358.76" y="559.48" width="7.75" height="7.07" fill="#b9b0d4"/>
<rect x="366.47" y="559.48" width="3.90" height="7.07" fill="#e9e2f1"/>
<rect x="385.75" y="559.48" width="3.90" height="7.07" fill="#f7cfc4"/>
<rect x="389.61" y="559.48" width="3.90" height="7.07" fill="#e9e2f1"/>
<rect x="393.46" y="559.48" width="3.90" height="7.07" fill="#d8d0e8"/>
<rect x="397.32" y="559.48" width="3.90" height="7.07" fill="#e9e2f1"/>
<rect x="412.74" y="559.48" width="11.61" height="7.07" fill="#e9e2f1"/>
<rect x="428.17" y="559.48" width="3.90" height="7.07" fill="#d8d0e8"/>
<rect x="439.73" y="559.48" width="7.75" height="7.07" fill="#d8d0e8"/>
<rect x="447.44" y="559.48" width="7.75" height="7.07" fill="#e9e2f1"/>
<rect x="455.15" y="559.48" width="3.90" height="7.07" fill="#d8d0e8"/>
<rect x="462.87" y="559.48" width="3.90" height="7.07" fill="#d8d0e8"/>
<rect x="466.72" y="559.48" width="3.90" height="7.07" fill="#e9e2f1"/>
<rect x="478.29" y="559.48" width="7.75" height="7.07" fill="#d8d0e8"/>
</g>
<text x="39.10" y="389.34" font-size="5.35" text-anchor="end" fill="#231f20" font-weight="normal"  stroke="#231f20" stroke-width="0.28">Ki67</text>
<text x="35.80" y="396.37" font-size="5.35" text-anchor="end" fill="#231f20" font-weight="normal"  stroke="#231f20" stroke-width="0.28">P-RB H-score</text>
<text x="39.10" y="403.39" font-size="5.35" text-anchor="end" fill="#231f20" font-weight="normal"  stroke="#231f20" stroke-width="0.28">HIST1H3B</text>
<text x="39.10" y="410.42" font-size="5.35" text-anchor="end" fill="#231f20" font-weight="normal"  stroke="#231f20" stroke-width="0.28">RRM2</text>
<text x="39.10" y="417.45" font-size="5.35" text-anchor="end" fill="#231f20" font-weight="normal"  stroke="#231f20" stroke-width="0.28">FAM111B</text>
<text x="39.10" y="424.47" font-size="5.35" text-anchor="end" fill="#231f20" font-weight="normal"  stroke="#231f20" stroke-width="0.28">ANLN</text>
<text x="39.10" y="431.50" font-size="5.35" text-anchor="end" fill="#231f20" font-weight="normal"  stroke="#231f20" stroke-width="0.28">DIAPH3</text>
<text x="39.10" y="438.53" font-size="5.35" text-anchor="end" fill="#231f20" font-weight="normal"  stroke="#231f20" stroke-width="0.28">CDK1</text>
<text x="39.10" y="445.56" font-size="5.35" text-anchor="end" fill="#231f20" font-weight="normal"  stroke="#231f20" stroke-width="0.28">KIF4A</text>
<text x="39.10" y="452.58" font-size="5.35" text-anchor="end" fill="#231f20" font-weight="normal"  stroke="#231f20" stroke-width="0.28">HMMR</text>
<text x="39.10" y="459.61" font-size="5.35" text-anchor="end" fill="#231f20" font-weight="normal"  stroke="#231f20" stroke-width="0.28">TPX2</text>
<text x="39.10" y="466.64" font-size="5.35" text-anchor="end" fill="#231f20" font-weight="normal"  stroke="#231f20" stroke-width="0.28">CASC5</text>
<text x="39.10" y="473.66" font-size="5.35" text-anchor="end" fill="#231f20" font-weight="normal"  stroke="#231f20" stroke-width="0.28">DTL</text>
<text x="39.10" y="480.69" font-size="5.35" text-anchor="end" fill="#231f20" font-weight="normal"  stroke="#231f20" stroke-width="0.28">ARHGAP11A</text>
<text x="39.10" y="487.72" font-size="5.35" text-anchor="end" fill="#231f20" font-weight="normal"  stroke="#231f20" stroke-width="0.28">HIST1H3F</text>
<text x="39.10" y="494.74" font-size="5.35" text-anchor="end" fill="#231f20" font-weight="normal"  stroke="#231f20" stroke-width="0.28">BUB1</text>
<text x="39.10" y="501.77" font-size="5.35" text-anchor="end" fill="#231f20" font-weight="normal"  stroke="#231f20" stroke-width="0.28">CLSPN</text>
<text x="39.10" y="508.80" font-size="5.35" text-anchor="end" fill="#231f20" font-weight="normal"  stroke="#231f20" stroke-width="0.28">PRR11</text>
<text x="39.10" y="515.83" font-size="5.35" text-anchor="end" fill="#231f20" font-weight="normal"  stroke="#231f20" stroke-width="0.28">ZNF367</text>
<text x="39.10" y="522.85" font-size="5.35" text-anchor="end" fill="#231f20" font-weight="normal"  stroke="#231f20" stroke-width="0.28">CDCA5</text>
<text x="39.10" y="529.88" font-size="5.35" text-anchor="end" fill="#231f20" font-weight="normal"  stroke="#231f20" stroke-width="0.28">TICRR</text>
<text x="39.10" y="536.91" font-size="5.35" text-anchor="end" fill="#231f20" font-weight="normal"  stroke="#231f20" stroke-width="0.28">STMN1</text>
<text x="39.10" y="543.93" font-size="5.35" text-anchor="end" fill="#231f20" font-weight="normal"  stroke="#231f20" stroke-width="0.28">KIF18A</text>
<text x="39.10" y="550.96" font-size="5.35" text-anchor="end" fill="#231f20" font-weight="normal"  stroke="#231f20" stroke-width="0.28">KPNA2</text>
<text x="39.10" y="557.99" font-size="5.35" text-anchor="end" fill="#231f20" font-weight="normal"  stroke="#231f20" stroke-width="0.28">KIAA1524</text>
<text x="39.10" y="565.01" font-size="5.35" text-anchor="end" fill="#231f20" font-weight="normal"  stroke="#231f20" stroke-width="0.28">MAD2L1</text>
<defs><linearGradient id="cb" x1="0" y1="0" x2="0" y2="1"><stop offset="0" stop-color="#efa690"/><stop offset="0.15" stop-color="#f6cbbd"/><stop offset="0.19" stop-color="#fbece6"/><stop offset="0.26" stop-color="#f3f0f7"/><stop offset="0.30" stop-color="#dcd6ec"/><stop offset="0.40" stop-color="#c2bbe0"/><stop offset="0.70" stop-color="#7a70bb"/><stop offset="1" stop-color="#28277f"/></linearGradient></defs>
<rect x="496.00" y="447.60" width="6.50" height="66.90" fill="url(#cb)" stroke="none" stroke-width="1.0" />
<text x="505.10" y="432.77" font-size="6.3" text-anchor="middle" fill="#231f20" font-weight="normal"  stroke="#231f20" stroke-width="0.28">Row</text>
<text x="506.20" y="440.54" font-size="6.5" text-anchor="middle" fill="#231f20" font-weight="normal"  stroke="#231f20" stroke-width="0.28">z-score</text>
<text x="503.80" y="456.80" font-size="5.0" text-anchor="start" fill="#231f20" font-weight="normal"  stroke="#231f20" stroke-width="0.28">1.0</text>
<text x="503.80" y="464.70" font-size="5.0" text-anchor="start" fill="#231f20" font-weight="normal"  stroke="#231f20" stroke-width="0.28">0.5</text>
<text x="503.80" y="472.00" font-size="5.0" text-anchor="start" fill="#231f20" font-weight="normal"  stroke="#231f20" stroke-width="0.28">0.0</text>
<text x="0.00" y="591.70" font-size="15.6" text-anchor="start" fill="#000" font-weight="bold" stroke="#000" stroke-width="0.35">H</text>
<line x1="90.30" y1="606.20" x2="90.30" y2="734.00" stroke="#262626" stroke-width="1.1" />
<line x1="85.70" y1="623.89" x2="90.30" y2="623.89" stroke="#444" stroke-width="0.9" />
<text x="82.90" y="626.12" font-size="6.2" text-anchor="end" fill="#231f20" font-weight="normal"  stroke="#231f20" stroke-width="0.28">180</text>
<line x1="85.70" y1="638.87" x2="90.30" y2="638.87" stroke="#444" stroke-width="0.9" />
<text x="82.90" y="641.10" font-size="6.2" text-anchor="end" fill="#231f20" font-weight="normal"  stroke="#231f20" stroke-width="0.28">140</text>
<line x1="85.70" y1="653.85" x2="90.30" y2="653.85" stroke="#444" stroke-width="0.9" />
<text x="82.90" y="656.08" font-size="6.2" text-anchor="end" fill="#231f20" font-weight="normal"  stroke="#231f20" stroke-width="0.28">100</text>
<line x1="85.70" y1="668.83" x2="90.30" y2="668.83" stroke="#444" stroke-width="0.9" />
<text x="82.90" y="671.06" font-size="6.2" text-anchor="end" fill="#231f20" font-weight="normal"  stroke="#231f20" stroke-width="0.28">60</text>
<line x1="85.70" y1="683.81" x2="90.30" y2="683.81" stroke="#444" stroke-width="0.9" />
<text x="82.90" y="686.04" font-size="6.2" text-anchor="end" fill="#231f20" font-weight="normal"  stroke="#231f20" stroke-width="0.28">20</text>
<line x1="85.70" y1="698.79" x2="90.30" y2="698.79" stroke="#444" stroke-width="0.9" />
<text x="82.90" y="701.02" font-size="6.2" text-anchor="end" fill="#231f20" font-weight="normal"  stroke="#231f20" stroke-width="0.28">&#8722;20</text>
<line x1="85.70" y1="713.77" x2="90.30" y2="713.77" stroke="#444" stroke-width="0.9" />
<text x="82.90" y="716.00" font-size="6.2" text-anchor="end" fill="#231f20" font-weight="normal"  stroke="#231f20" stroke-width="0.28">&#8722;60</text>
<line x1="85.70" y1="728.75" x2="90.30" y2="728.75" stroke="#444" stroke-width="0.9" />
<text x="82.90" y="730.98" font-size="6.2" text-anchor="end" fill="#231f20" font-weight="normal"  stroke="#231f20" stroke-width="0.28">&#8722;100</text>
<rect x="102.40" y="641.87" width="45.30" height="49.43" fill="#4b4b4b" stroke="#2a2a2a" stroke-width="0.8" />
<rect x="174.00" y="691.11" width="46.80" height="24.16" fill="#e83b3d" stroke="#333" stroke-width="0.8" />
<line x1="125.00" y1="605.91" x2="125.00" y2="669.58" stroke="#1a1a1a" stroke-width="1.1" />
<line x1="117.80" y1="605.91" x2="132.20" y2="605.91" stroke="#1a1a1a" stroke-width="1.1" />
<line x1="117.80" y1="669.58" x2="132.20" y2="669.58" stroke="#1a1a1a" stroke-width="1.1" />
<line x1="197.70" y1="712.27" x2="197.70" y2="716.77" stroke="#555" stroke-width="0.9" />
<line x1="192.50" y1="712.27" x2="203.00" y2="712.27" stroke="#555" stroke-width="0.9" />
<line x1="192.50" y1="716.77" x2="203.00" y2="716.77" stroke="#888" stroke-width="0.9" />
<text x="128.30" y="753.32" font-size="7.0" text-anchor="middle" fill="#231f20" font-weight="normal"  stroke="#231f20" stroke-width="0.28">Placebo</text>
<text x="198.20" y="753.32" font-size="7.0" text-anchor="middle" fill="#231f20" font-weight="normal"  stroke="#231f20" stroke-width="0.28">Palbociclib</text>
<text transform="translate(56.98,665.50) rotate(-90)" x="0" y="0" font-size="6.9" text-anchor="middle" fill="#231f20" stroke="#231f20" stroke-width="0.28" >Relative geometric change in&#160; P-RB H-score (%)</text>
<text transform="translate(66.40,666.50) rotate(-90)" x="0" y="0" font-size="6.95" text-anchor="middle" fill="#231f20" stroke="#231f20" stroke-width="0.28" >baseline vs. surgery</text>
<text x="277.20" y="591.70" font-size="15.6" text-anchor="start" fill="#000" font-weight="bold" stroke="#000" stroke-width="0.35">I</text>
<line x1="327.50" y1="607.50" x2="327.50" y2="736.00" stroke="#262626" stroke-width="1.1" />
<line x1="322.90" y1="610.60" x2="327.50" y2="610.60" stroke="#444" stroke-width="0.9" />
<text x="321.30" y="612.98" font-size="6.6" text-anchor="end" fill="#231f20" font-weight="normal"  stroke="#231f20" stroke-width="0.28">0</text>
<line x1="322.90" y1="635.35" x2="327.50" y2="635.35" stroke="#444" stroke-width="0.9" />
<text x="321.30" y="637.73" font-size="6.6" text-anchor="end" fill="#231f20" font-weight="normal"  stroke="#231f20" stroke-width="0.28">&#8722;20</text>
<line x1="322.90" y1="660.10" x2="327.50" y2="660.10" stroke="#444" stroke-width="0.9" />
<text x="321.30" y="662.48" font-size="6.6" text-anchor="end" fill="#231f20" font-weight="normal"  stroke="#231f20" stroke-width="0.28">&#8722;40</text>
<line x1="322.90" y1="684.85" x2="327.50" y2="684.85" stroke="#444" stroke-width="0.9" />
<text x="321.30" y="687.23" font-size="6.6" text-anchor="end" fill="#231f20" font-weight="normal"  stroke="#231f20" stroke-width="0.28">&#8722;60</text>
<line x1="322.90" y1="709.60" x2="327.50" y2="709.60" stroke="#444" stroke-width="0.9" />
<text x="321.30" y="711.98" font-size="6.6" text-anchor="end" fill="#231f20" font-weight="normal"  stroke="#231f20" stroke-width="0.28">&#8722;80</text>
<line x1="322.90" y1="734.35" x2="327.50" y2="734.35" stroke="#444" stroke-width="0.9" />
<text x="321.30" y="736.73" font-size="6.6" text-anchor="end" fill="#231f20" font-weight="normal"  stroke="#231f20" stroke-width="0.28">&#8722;100</text>
<rect x="335.50" y="609.60" width="41.30" height="52.98" fill="#4b4b4b" stroke="#2a2a2a" stroke-width="0.8" />
<rect x="391.50" y="609.60" width="42.00" height="114.23" fill="#e83b3d" stroke="#333" stroke-width="0.8" />
<line x1="356.30" y1="640.30" x2="356.30" y2="688.56" stroke="#1a1a1a" stroke-width="1.0" />
<line x1="350.80" y1="640.30" x2="361.80" y2="640.30" stroke="#1a1a1a" stroke-width="1.0" />
<line x1="350.80" y1="688.56" x2="361.80" y2="688.56" stroke="#1a1a1a" stroke-width="1.0" />
<line x1="408.50" y1="723.83" x2="416.50" y2="723.83" stroke="#333" stroke-width="1.0" />
<text x="357.50" y="753.02" font-size="7.0" text-anchor="middle" fill="#231f20" font-weight="normal"  stroke="#231f20" stroke-width="0.28">Placebo</text>
<text x="412.50" y="753.02" font-size="7.0" text-anchor="middle" fill="#231f20" font-weight="normal"  stroke="#231f20" stroke-width="0.28">Palbociclib</text>
<text transform="translate(297.52,667.50) rotate(-90)" x="0" y="0" font-size="7.0" text-anchor="middle" fill="#231f20" stroke="#231f20" stroke-width="0.28" >Relative geometric change in Ki67&#160; H-score (%)</text>
<text transform="translate(306.32,666.50) rotate(-90)" x="0" y="0" font-size="7.0" text-anchor="middle" fill="#231f20" stroke="#231f20" stroke-width="0.28" >baseline vs. surgery</text>
</svg>
</body></html>
